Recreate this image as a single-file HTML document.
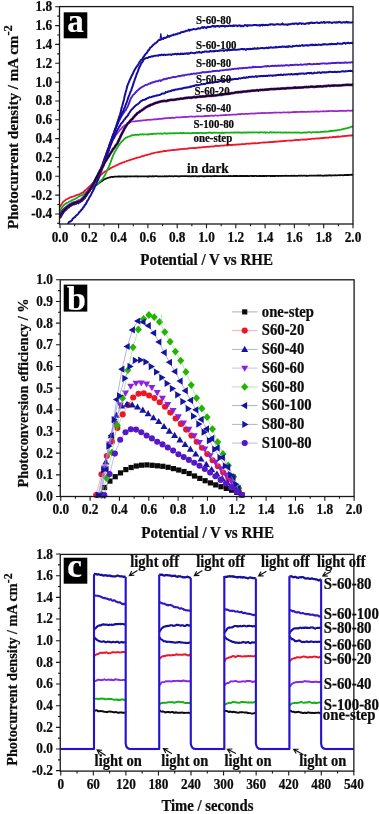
<!DOCTYPE html>
<html lang="en"><head><meta charset="utf-8"><title>Photocurrent figure</title>
<style>html,body{margin:0;padding:0;background:#fff}svg{display:block}text{stroke:#0c0c0c;stroke-width:.22px}text.w{stroke:#fff}</style></head>
<body>
<svg width="379" height="814" viewBox="0 0 379 814" font-family="'Liberation Serif', serif" font-weight="bold" fill="#0c0c0c">
<rect width="379" height="814" fill="#fff"/>
<rect x="59.5" y="6.6" width="293.5" height="217.4" fill="#fff" stroke="none"/>
<clipPath id="ca"><rect x="59.5" y="6.6" width="293.5" height="217.4"/></clipPath>
<g clip-path="url(#ca)">
<path d="M60.0 213.2 L60.8 211.9 L61.6 211.2 L62.4 210.3 L63.2 209.5 L64.0 208.8 L64.8 208.0 L65.6 207.5 L66.4 207.0 L67.2 206.8 L68.0 206.1 L68.8 205.6 L69.6 205.2 L70.4 204.7 L71.2 204.3 L72.0 204.0 L72.8 203.8 L73.6 203.4 L74.4 203.2 L75.2 202.9 L76.0 202.7 L76.8 202.5 L77.6 202.1 L78.4 201.7 L79.2 201.4 L80.0 201.1 L80.8 200.8 L81.6 200.1 L82.4 199.4 L83.2 198.6 L84.0 197.5 L84.8 196.6 L85.6 195.6 L86.4 194.5 L87.2 193.4 L88.0 192.5 L88.8 191.3 L89.6 190.8 L90.4 189.9 L91.2 189.1 L92.0 188.6 L92.8 187.9 L93.6 187.2 L94.4 186.5 L95.2 185.9 L96.0 185.3 L96.8 184.8 L97.6 184.1 L98.4 183.5 L99.2 183.0 L100.0 182.3 L100.8 181.7 L101.6 181.3 L102.4 180.7 L103.2 180.1 L104.0 179.5 L104.8 179.2 L105.6 178.6 L106.4 178.5 L107.2 178.2 L108.0 177.8 L108.8 177.7 L109.6 177.4 L110.4 177.3 L111.2 176.9 L112.0 176.9 L112.8 177.0 L113.6 176.9 L114.4 176.6 L115.2 176.7 L116.0 176.7 L116.8 176.6 L117.6 176.7 L118.4 176.4 L119.2 176.5 L120.0 176.4 L120.8 176.6 L121.6 176.5 L122.4 176.4 L123.2 176.3 L124.0 176.6 L124.8 176.5 L125.6 176.5 L126.4 176.5 L127.2 176.5 L128.0 176.4 L128.8 176.4 L129.6 176.4 L130.4 176.5 L131.2 176.3 L132.0 176.4 L132.8 176.4 L133.6 176.4 L134.4 176.4 L135.2 176.3 L136.0 176.2 L136.8 176.4 L137.6 176.5 L138.4 176.4 L139.2 176.4 L140.0 176.3 L140.8 176.4 L141.6 176.3 L142.4 176.4 L143.2 176.3 L144.0 176.4 L144.8 176.3 L145.6 176.4 L146.4 176.4 L147.2 176.5 L148.0 176.5 L148.8 176.5 L149.6 176.2 L150.4 176.3 L151.2 176.3 L152.0 176.4 L152.8 176.1 L153.6 176.4 L154.4 176.4 L155.2 176.2 L156.0 176.2 L156.8 176.2 L157.6 176.3 L158.4 176.4 L159.2 176.5 L160.0 176.3 L160.8 176.4 L161.6 176.3 L162.4 176.4 L163.2 176.3 L164.0 176.4 L164.8 176.2 L165.6 176.3 L166.4 176.2 L167.2 176.4 L168.0 176.3 L168.8 176.2 L169.6 176.2 L170.4 176.3 L171.2 176.2 L172.0 176.2 L172.8 176.3 L173.6 176.4 L174.4 176.2 L175.2 176.2 L176.0 176.1 L176.8 176.1 L177.6 176.3 L178.4 176.3 L179.2 176.2 L180.0 176.3 L180.8 176.2 L181.6 176.2 L182.4 176.1 L183.2 176.2 L184.0 176.2 L184.8 176.1 L185.6 176.2 L186.4 176.1 L187.2 176.2 L188.0 176.3 L188.8 176.2 L189.6 176.2 L190.4 176.3 L191.2 176.2 L192.0 176.3 L192.8 176.0 L193.6 176.3 L194.4 176.1 L195.2 176.2 L196.0 176.2 L196.8 176.3 L197.6 176.3 L198.4 176.2 L199.2 176.3 L200.0 176.1 L200.8 176.2 L201.6 176.2 L202.4 176.1 L203.2 176.3 L204.0 176.2 L204.8 176.3 L205.6 176.1 L206.4 176.1 L207.2 176.2 L208.0 176.2 L208.8 176.1 L209.6 176.2 L210.4 176.1 L211.2 176.3 L212.0 176.1 L212.8 176.2 L213.6 176.1 L214.4 176.0 L215.2 176.1 L216.0 176.0 L216.8 176.1 L217.6 176.2 L218.4 176.1 L219.2 176.2 L220.0 176.2 L220.8 176.1 L221.6 176.1 L222.4 176.1 L223.2 176.0 L224.0 176.2 L224.8 176.0 L225.6 176.1 L226.4 176.1 L227.2 176.2 L228.0 176.1 L228.8 176.0 L229.6 176.1 L230.4 176.0 L231.2 176.1 L232.0 176.1 L232.8 176.1 L233.6 176.0 L234.4 176.0 L235.2 176.0 L236.0 175.9 L236.8 176.0 L237.6 176.0 L238.4 176.1 L239.2 176.1 L240.0 175.9 L240.8 176.0 L241.6 176.0 L242.4 175.9 L243.2 176.1 L244.0 176.0 L244.8 175.9 L245.6 176.0 L246.4 176.0 L247.2 176.0 L248.0 175.9 L248.8 176.1 L249.6 176.1 L250.4 175.9 L251.2 175.9 L252.0 176.0 L252.8 175.9 L253.6 176.1 L254.4 176.0 L255.2 175.9 L256.0 175.9 L256.8 176.0 L257.6 176.2 L258.4 176.0 L259.2 176.0 L260.0 176.0 L260.8 176.0 L261.6 176.1 L262.4 175.9 L263.2 176.0 L264.0 176.0 L264.8 176.0 L265.6 175.8 L266.4 176.1 L267.2 175.9 L268.0 175.9 L268.8 175.8 L269.6 175.9 L270.4 176.0 L271.2 176.0 L272.0 176.0 L272.8 176.0 L273.6 176.0 L274.4 175.9 L275.2 176.0 L276.0 175.9 L276.8 175.9 L277.6 175.9 L278.4 176.0 L279.2 175.9 L280.0 175.8 L280.8 175.9 L281.6 176.0 L282.4 175.8 L283.2 175.9 L284.0 175.8 L284.8 175.9 L285.6 175.7 L286.4 175.9 L287.2 175.9 L288.0 175.8 L288.8 175.9 L289.6 175.9 L290.4 175.8 L291.2 175.8 L292.0 175.7 L292.8 175.8 L293.6 175.9 L294.4 175.7 L295.2 175.9 L296.0 175.8 L296.8 175.9 L297.6 175.8 L298.4 175.6 L299.2 175.7 L300.0 175.8 L300.8 175.7 L301.6 175.6 L302.4 175.8 L303.2 175.7 L304.0 175.6 L304.8 175.7 L305.6 175.8 L306.4 175.7 L307.2 175.8 L308.0 175.8 L308.8 175.7 L309.6 175.6 L310.4 175.6 L311.2 175.7 L312.0 175.7 L312.8 175.7 L313.6 175.7 L314.4 175.6 L315.2 175.7 L316.0 175.6 L316.8 175.6 L317.6 175.5 L318.4 175.5 L319.2 175.6 L320.0 175.5 L320.8 175.5 L321.6 175.6 L322.4 175.6 L323.2 175.8 L324.0 175.6 L324.8 175.5 L325.6 175.6 L326.4 175.5 L327.2 175.4 L328.0 175.6 L328.8 175.4 L329.6 175.2 L330.4 175.5 L331.2 175.4 L332.0 175.5 L332.8 175.3 L333.6 175.3 L334.4 175.5 L335.2 175.2 L336.0 175.3 L336.8 175.4 L337.6 175.3 L338.4 175.2 L339.2 175.2 L340.0 175.3 L340.8 175.1 L341.6 175.2 L342.4 175.2 L343.2 175.3 L344.0 175.0 L344.8 175.0 L345.6 175.1 L346.4 175.0 L347.2 175.0 L348.0 175.0 L348.8 175.0 L349.6 174.9 L350.4 174.9 L351.2 174.7 L352.0 174.8 L352.8 174.9 L353.0 174.7" fill="none" stroke="#0a0a0a" stroke-width="1.8" stroke-linejoin="round" stroke-linecap="round" />
<path d="M60.0 206.9 L60.8 205.4 L61.6 204.2 L62.4 202.9 L63.2 201.7 L64.0 201.1 L64.8 200.4 L65.6 199.9 L66.4 199.3 L67.2 199.1 L68.0 198.6 L68.8 198.2 L69.6 197.8 L70.4 197.4 L71.2 197.2 L72.0 196.8 L72.8 196.6 L73.6 196.3 L74.4 196.1 L75.2 195.8 L76.0 195.4 L76.8 194.9 L77.6 194.9 L78.4 194.7 L79.2 194.3 L80.0 194.0 L80.8 193.5 L81.6 193.1 L82.4 192.6 L83.2 192.3 L84.0 191.5 L84.8 190.8 L85.6 190.0 L86.4 189.4 L87.2 188.8 L88.0 187.9 L88.8 187.0 L89.6 186.5 L90.4 185.8 L91.2 185.0 L92.0 184.2 L92.8 183.4 L93.6 182.5 L94.4 181.7 L95.2 180.7 L96.0 180.1 L96.8 179.1 L97.6 178.5 L98.4 177.2 L99.2 176.7 L100.0 175.9 L100.8 175.0 L101.6 174.3 L102.4 173.6 L103.2 172.9 L104.0 172.2 L104.8 171.6 L105.6 171.2 L106.4 170.8 L107.2 170.2 L108.0 169.8 L108.8 169.4 L109.6 169.0 L110.4 168.3 L111.2 167.8 L112.0 167.6 L112.8 167.0 L113.6 166.6 L114.4 166.3 L115.2 166.0 L116.0 165.4 L116.8 165.3 L117.6 164.6 L118.4 164.5 L119.2 163.9 L120.0 163.6 L120.8 163.5 L121.6 163.0 L122.4 162.6 L123.2 162.3 L124.0 162.1 L124.8 161.8 L125.6 161.5 L126.4 161.3 L127.2 160.8 L128.0 160.6 L128.8 160.3 L129.6 160.2 L130.4 159.9 L131.2 159.7 L132.0 159.3 L132.8 159.0 L133.6 158.9 L134.4 158.5 L135.2 158.4 L136.0 158.1 L136.8 157.7 L137.6 157.6 L138.4 157.3 L139.2 157.3 L140.0 157.2 L140.8 156.7 L141.6 156.5 L142.4 156.0 L143.2 156.0 L144.0 155.8 L144.8 155.4 L145.6 155.4 L146.4 154.9 L147.2 154.9 L148.0 154.7 L148.8 154.3 L149.6 154.3 L150.4 154.1 L151.2 153.6 L152.0 153.4 L152.8 153.4 L153.6 153.1 L154.4 152.8 L155.2 152.7 L156.0 152.5 L156.8 152.3 L157.6 152.3 L158.4 152.0 L159.2 152.1 L160.0 151.9 L160.8 151.7 L161.6 151.6 L162.4 151.5 L163.2 151.3 L164.0 150.9 L164.8 151.1 L165.6 150.9 L166.4 151.0 L167.2 150.7 L168.0 150.6 L168.8 150.5 L169.6 150.6 L170.4 150.3 L171.2 150.2 L172.0 150.2 L172.8 150.0 L173.6 150.0 L174.4 149.9 L175.2 149.8 L176.0 149.9 L176.8 149.6 L177.6 149.5 L178.4 149.4 L179.2 149.5 L180.0 149.2 L180.8 149.1 L181.6 149.1 L182.4 149.1 L183.2 149.0 L184.0 148.8 L184.8 148.7 L185.6 148.8 L186.4 148.8 L187.2 148.6 L188.0 148.5 L188.8 148.5 L189.6 148.2 L190.4 148.2 L191.2 148.2 L192.0 148.2 L192.8 148.1 L193.6 147.8 L194.4 148.1 L195.2 148.1 L196.0 147.8 L196.8 147.8 L197.6 147.7 L198.4 147.7 L199.2 147.3 L200.0 147.6 L200.8 147.3 L201.6 147.5 L202.4 147.2 L203.2 147.1 L204.0 147.1 L204.8 147.1 L205.6 146.9 L206.4 146.9 L207.2 146.8 L208.0 146.6 L208.8 146.9 L209.6 146.7 L210.4 146.6 L211.2 146.6 L212.0 146.3 L212.8 146.4 L213.6 146.5 L214.4 146.4 L215.2 145.9 L216.0 145.7 L216.8 145.9 L217.6 146.1 L218.4 145.9 L219.2 145.8 L220.0 145.9 L220.8 145.6 L221.6 145.7 L222.4 145.7 L223.2 145.6 L224.0 145.5 L224.8 145.4 L225.6 145.4 L226.4 145.3 L227.2 145.4 L228.0 145.5 L228.8 145.1 L229.6 144.8 L230.4 145.0 L231.2 145.0 L232.0 145.0 L232.8 145.0 L233.6 144.7 L234.4 144.6 L235.2 144.8 L236.0 144.5 L236.8 144.7 L237.6 144.5 L238.4 144.5 L239.2 144.5 L240.0 144.4 L240.8 144.4 L241.6 144.1 L242.4 144.2 L243.2 144.1 L244.0 144.1 L244.8 144.1 L245.6 143.9 L246.4 143.8 L247.2 143.7 L248.0 143.7 L248.8 143.8 L249.6 143.5 L250.4 143.7 L251.2 143.5 L252.0 143.4 L252.8 143.2 L253.6 143.4 L254.4 143.4 L255.2 143.0 L256.0 143.3 L256.8 143.3 L257.6 143.1 L258.4 143.0 L259.2 143.2 L260.0 143.0 L260.8 142.7 L261.6 142.7 L262.4 142.6 L263.2 142.6 L264.0 142.3 L264.8 142.6 L265.6 142.4 L266.4 142.4 L267.2 142.3 L268.0 142.4 L268.8 142.2 L269.6 142.0 L270.4 142.1 L271.2 142.2 L272.0 141.9 L272.8 142.0 L273.6 141.9 L274.4 141.7 L275.2 141.9 L276.0 141.5 L276.8 141.7 L277.6 141.5 L278.4 141.5 L279.2 141.3 L280.0 141.2 L280.8 141.4 L281.6 141.2 L282.4 141.2 L283.2 141.0 L284.0 141.1 L284.8 140.8 L285.6 140.8 L286.4 140.8 L287.2 140.7 L288.0 140.6 L288.8 140.7 L289.6 140.6 L290.4 140.5 L291.2 140.7 L292.0 140.5 L292.8 140.5 L293.6 140.3 L294.4 140.2 L295.2 140.0 L296.0 140.1 L296.8 139.8 L297.6 139.9 L298.4 140.0 L299.2 140.1 L300.0 139.9 L300.8 139.6 L301.6 139.7 L302.4 139.5 L303.2 139.6 L304.0 139.5 L304.8 139.5 L305.6 139.7 L306.4 139.4 L307.2 139.5 L308.0 139.2 L308.8 139.1 L309.6 139.2 L310.4 139.2 L311.2 138.9 L312.0 138.9 L312.8 138.6 L313.6 138.7 L314.4 138.8 L315.2 138.6 L316.0 138.5 L316.8 138.3 L317.6 138.5 L318.4 138.5 L319.2 138.4 L320.0 138.3 L320.8 138.0 L321.6 138.3 L322.4 138.0 L323.2 138.0 L324.0 138.0 L324.8 137.6 L325.6 137.8 L326.4 137.7 L327.2 137.7 L328.0 137.8 L328.8 137.6 L329.6 137.2 L330.4 137.4 L331.2 137.4 L332.0 137.3 L332.8 137.0 L333.6 136.9 L334.4 137.1 L335.2 137.0 L336.0 136.9 L336.8 136.6 L337.6 137.0 L338.4 136.3 L339.2 136.6 L340.0 136.8 L340.8 136.5 L341.6 136.4 L342.4 136.2 L343.2 136.4 L344.0 136.0 L344.8 136.1 L345.6 136.0 L346.4 135.8 L347.2 136.0 L348.0 135.6 L348.8 135.6 L349.6 135.6 L350.4 135.5 L351.2 135.5 L352.0 135.5 L352.8 135.3 L353.0 135.2" fill="none" stroke="#f01428" stroke-width="1.8" stroke-linejoin="round" stroke-linecap="round" />
<path d="M60.0 210.9 L60.8 209.5 L61.6 208.3 L62.4 206.9 L63.2 205.9 L64.0 205.0 L64.8 204.2 L65.6 203.9 L66.4 203.2 L67.2 202.9 L68.0 202.7 L68.8 201.9 L69.6 201.7 L70.4 201.1 L71.2 200.8 L72.0 200.2 L72.8 200.0 L73.6 199.5 L74.4 199.2 L75.2 199.0 L76.0 198.4 L76.8 198.0 L77.6 197.4 L78.4 197.0 L79.2 196.4 L80.0 195.8 L80.8 195.6 L81.6 195.4 L82.4 194.7 L83.2 194.1 L84.0 193.9 L84.8 193.0 L85.6 192.5 L86.4 191.9 L87.2 191.3 L88.0 190.9 L88.8 190.7 L89.6 189.8 L90.4 189.1 L91.2 188.5 L92.0 188.0 L92.8 187.1 L93.6 186.8 L94.4 186.3 L95.2 185.6 L96.0 185.1 L96.8 184.2 L97.6 183.4 L98.4 183.2 L99.2 182.5 L100.0 181.3 L100.8 180.8 L101.6 179.9 L102.4 179.0 L103.2 177.9 L104.0 176.6 L104.8 175.3 L105.6 173.8 L106.4 172.2 L107.2 170.3 L108.0 168.5 L108.8 166.9 L109.6 164.7 L110.4 162.8 L111.2 160.6 L112.0 158.4 L112.8 156.2 L113.6 154.4 L114.4 153.0 L115.2 151.2 L116.0 150.0 L116.8 148.6 L117.6 147.2 L118.4 146.2 L119.2 144.7 L120.0 143.9 L120.8 142.6 L121.6 141.7 L122.4 140.8 L123.2 140.2 L124.0 139.3 L124.8 138.7 L125.6 137.9 L126.4 137.6 L127.2 137.3 L128.0 136.8 L128.8 136.6 L129.6 136.2 L130.4 136.2 L131.2 135.6 L132.0 135.1 L132.8 135.4 L133.6 135.1 L134.4 134.8 L135.2 134.8 L136.0 134.6 L136.8 134.8 L137.6 134.6 L138.4 134.9 L139.2 134.8 L140.0 134.4 L140.8 134.4 L141.6 134.5 L142.4 134.2 L143.2 134.5 L144.0 134.5 L144.8 134.3 L145.6 134.3 L146.4 134.4 L147.2 134.5 L148.0 134.5 L148.8 134.2 L149.6 134.3 L150.4 134.0 L151.2 134.1 L152.0 133.8 L152.8 134.1 L153.6 133.7 L154.4 133.7 L155.2 133.8 L156.0 133.8 L156.8 133.5 L157.6 133.6 L158.4 133.7 L159.2 133.7 L160.0 133.5 L160.8 133.6 L161.6 133.5 L162.4 133.8 L163.2 133.6 L164.0 133.3 L164.8 133.2 L165.6 133.5 L166.4 133.6 L167.2 133.5 L168.0 133.5 L168.8 133.3 L169.6 133.2 L170.4 133.5 L171.2 133.4 L172.0 133.4 L172.8 133.1 L173.6 133.3 L174.4 133.2 L175.2 133.4 L176.0 133.2 L176.8 133.2 L177.6 133.1 L178.4 133.4 L179.2 133.2 L180.0 133.1 L180.8 133.0 L181.6 133.0 L182.4 133.4 L183.2 132.9 L184.0 133.0 L184.8 133.2 L185.6 133.3 L186.4 133.1 L187.2 133.2 L188.0 133.2 L188.8 133.2 L189.6 133.1 L190.4 133.3 L191.2 133.1 L192.0 133.3 L192.8 132.9 L193.6 133.2 L194.4 132.8 L195.2 132.8 L196.0 133.1 L196.8 132.9 L197.6 133.1 L198.4 132.8 L199.2 133.2 L200.0 133.0 L200.8 132.8 L201.6 133.0 L202.4 133.1 L203.2 132.8 L204.0 133.0 L204.8 133.2 L205.6 133.0 L206.4 132.9 L207.2 132.8 L208.0 133.0 L208.8 132.6 L209.6 132.4 L210.4 132.8 L211.2 132.7 L212.0 133.1 L212.8 132.9 L213.6 132.7 L214.4 132.6 L215.2 132.9 L216.0 132.7 L216.8 132.7 L217.6 132.8 L218.4 132.8 L219.2 132.8 L220.0 132.8 L220.8 132.9 L221.6 133.0 L222.4 132.5 L223.2 133.1 L224.0 132.7 L224.8 132.9 L225.6 132.6 L226.4 132.7 L227.2 132.7 L228.0 132.7 L228.8 132.8 L229.6 132.7 L230.4 132.5 L231.2 132.6 L232.0 132.7 L232.8 132.7 L233.6 132.5 L234.4 132.5 L235.2 132.6 L236.0 132.4 L236.8 132.4 L237.6 132.8 L238.4 132.5 L239.2 132.5 L240.0 132.4 L240.8 132.7 L241.6 132.8 L242.4 132.5 L243.2 132.6 L244.0 132.4 L244.8 132.7 L245.6 132.6 L246.4 132.3 L247.2 132.6 L248.0 132.5 L248.8 132.5 L249.6 132.5 L250.4 132.3 L251.2 132.4 L252.0 132.5 L252.8 132.4 L253.6 132.3 L254.4 132.7 L255.2 132.4 L256.0 132.3 L256.8 132.3 L257.6 132.5 L258.4 132.6 L259.2 132.4 L260.0 132.5 L260.8 132.2 L261.6 132.4 L262.4 132.3 L263.2 132.4 L264.0 132.5 L264.8 132.1 L265.6 132.9 L266.4 132.3 L267.2 132.5 L268.0 132.6 L268.8 132.6 L269.6 132.5 L270.4 132.0 L271.2 132.3 L272.0 132.6 L272.8 132.3 L273.6 132.3 L274.4 132.1 L275.2 132.7 L276.0 132.6 L276.8 132.3 L277.6 132.5 L278.4 132.5 L279.2 132.3 L280.0 132.5 L280.8 132.5 L281.6 132.6 L282.4 132.7 L283.2 132.5 L284.0 132.5 L284.8 132.6 L285.6 132.5 L286.4 132.4 L287.2 132.7 L288.0 132.5 L288.8 132.6 L289.6 132.7 L290.4 132.4 L291.2 132.7 L292.0 132.6 L292.8 132.6 L293.6 132.6 L294.4 132.5 L295.2 132.3 L296.0 132.6 L296.8 132.5 L297.6 132.7 L298.4 132.6 L299.2 132.5 L300.0 132.6 L300.8 132.8 L301.6 132.8 L302.4 132.6 L303.2 132.6 L304.0 132.5 L304.8 132.5 L305.6 132.6 L306.4 132.5 L307.2 132.5 L308.0 132.3 L308.8 132.2 L309.6 132.2 L310.4 132.3 L311.2 132.6 L312.0 132.5 L312.8 132.2 L313.6 132.1 L314.4 132.4 L315.2 132.3 L316.0 132.0 L316.8 132.3 L317.6 132.1 L318.4 132.3 L319.2 132.1 L320.0 132.1 L320.8 132.0 L321.6 131.8 L322.4 131.8 L323.2 131.7 L324.0 131.9 L324.8 131.5 L325.6 131.4 L326.4 131.7 L327.2 131.7 L328.0 131.6 L328.8 131.5 L329.6 131.0 L330.4 131.1 L331.2 131.0 L332.0 131.0 L332.8 130.6 L333.6 130.8 L334.4 130.7 L335.2 130.4 L336.0 130.5 L336.8 130.5 L337.6 130.2 L338.4 130.2 L339.2 130.0 L340.0 129.8 L340.8 129.6 L341.6 129.3 L342.4 129.4 L343.2 128.9 L344.0 128.7 L344.8 128.8 L345.6 128.4 L346.4 128.3 L347.2 128.2 L348.0 127.9 L348.8 127.6 L349.6 127.5 L350.4 127.3 L351.2 126.7 L352.0 126.5 L352.8 126.7 L353.0 126.5" fill="none" stroke="#16b016" stroke-width="1.8" stroke-linejoin="round" stroke-linecap="round" />
<path d="M60.0 213.7 L60.8 212.7 L61.6 211.8 L62.4 210.6 L63.2 209.9 L64.0 209.0 L64.8 208.3 L65.6 207.3 L66.4 206.9 L67.2 206.4 L68.0 205.4 L68.8 205.1 L69.6 204.5 L70.4 204.0 L71.2 203.4 L72.0 202.8 L72.8 202.5 L73.6 202.4 L74.4 202.1 L75.2 201.8 L76.0 201.5 L76.8 201.2 L77.6 200.7 L78.4 200.2 L79.2 200.1 L80.0 199.7 L80.8 199.1 L81.6 198.4 L82.4 197.8 L83.2 196.9 L84.0 196.3 L84.8 195.3 L85.6 194.4 L86.4 193.5 L87.2 192.4 L88.0 191.5 L88.8 190.0 L89.6 188.8 L90.4 188.1 L91.2 187.0 L92.0 185.7 L92.8 184.3 L93.6 183.0 L94.4 181.6 L95.2 179.9 L96.0 178.6 L96.8 177.2 L97.6 175.5 L98.4 174.3 L99.2 172.2 L100.0 170.7 L100.8 169.2 L101.6 167.1 L102.4 165.0 L103.2 162.9 L104.0 160.9 L104.8 159.2 L105.6 157.0 L106.4 155.1 L107.2 153.0 L108.0 151.2 L108.8 149.1 L109.6 147.0 L110.4 145.2 L111.2 143.5 L112.0 142.0 L112.8 140.2 L113.6 138.9 L114.4 137.8 L115.2 136.1 L116.0 134.8 L116.8 134.0 L117.6 132.9 L118.4 131.8 L119.2 130.9 L120.0 129.9 L120.8 129.1 L121.6 128.2 L122.4 127.5 L123.2 126.5 L124.0 125.9 L124.8 125.4 L125.6 124.8 L126.4 124.4 L127.2 123.8 L128.0 123.3 L128.8 123.0 L129.6 122.6 L130.4 122.0 L131.2 121.8 L132.0 121.6 L132.8 121.5 L133.6 121.4 L134.4 121.4 L135.2 121.2 L136.0 121.3 L136.8 121.1 L137.6 120.8 L138.4 121.0 L139.2 120.9 L140.0 120.5 L140.8 120.6 L141.6 120.6 L142.4 120.4 L143.2 120.4 L144.0 120.3 L144.8 120.2 L145.6 120.0 L146.4 120.1 L147.2 119.9 L148.0 120.0 L148.8 119.6 L149.6 119.8 L150.4 119.9 L151.2 119.7 L152.0 119.6 L152.8 119.6 L153.6 119.3 L154.4 119.3 L155.2 119.3 L156.0 119.2 L156.8 119.3 L157.6 119.0 L158.4 119.2 L159.2 118.7 L160.0 118.8 L160.8 118.8 L161.6 118.9 L162.4 118.6 L163.2 118.3 L164.0 118.6 L164.8 118.4 L165.6 118.2 L166.4 118.1 L167.2 118.0 L168.0 118.1 L168.8 118.1 L169.6 117.7 L170.4 118.2 L171.2 117.8 L172.0 117.7 L172.8 117.8 L173.6 117.7 L174.4 118.0 L175.2 117.7 L176.0 117.4 L176.8 117.4 L177.6 117.3 L178.4 117.3 L179.2 117.4 L180.0 117.2 L180.8 117.5 L181.6 117.2 L182.4 117.1 L183.2 117.2 L184.0 116.8 L184.8 116.9 L185.6 117.1 L186.4 116.9 L187.2 116.9 L188.0 116.9 L188.8 116.7 L189.6 116.7 L190.4 116.5 L191.2 116.4 L192.0 116.9 L192.8 116.5 L193.6 116.5 L194.4 116.8 L195.2 116.7 L196.0 116.4 L196.8 116.4 L197.6 116.4 L198.4 116.2 L199.2 116.4 L200.0 116.3 L200.8 116.3 L201.6 116.4 L202.4 116.3 L203.2 116.4 L204.0 116.4 L204.8 115.8 L205.6 116.2 L206.4 115.9 L207.2 115.8 L208.0 116.1 L208.8 115.8 L209.6 115.8 L210.4 116.0 L211.2 115.7 L212.0 115.6 L212.8 115.8 L213.6 115.9 L214.4 115.7 L215.2 115.4 L216.0 115.5 L216.8 115.5 L217.6 115.8 L218.4 115.6 L219.2 115.5 L220.0 115.5 L220.8 115.2 L221.6 115.3 L222.4 115.3 L223.2 115.0 L224.0 115.1 L224.8 115.1 L225.6 114.9 L226.4 115.1 L227.2 115.0 L228.0 115.0 L228.8 114.7 L229.6 114.8 L230.4 115.0 L231.2 114.8 L232.0 114.5 L232.8 114.6 L233.6 114.8 L234.4 114.5 L235.2 114.5 L236.0 114.8 L236.8 114.4 L237.6 114.3 L238.4 114.1 L239.2 114.1 L240.0 114.4 L240.8 114.1 L241.6 113.9 L242.4 113.9 L243.2 114.0 L244.0 114.1 L244.8 113.8 L245.6 114.0 L246.4 113.8 L247.2 113.8 L248.0 113.8 L248.8 113.8 L249.6 113.6 L250.4 113.6 L251.2 113.7 L252.0 113.4 L252.8 113.5 L253.6 113.6 L254.4 113.6 L255.2 113.4 L256.0 113.3 L256.8 113.4 L257.6 113.2 L258.4 113.2 L259.2 113.3 L260.0 113.2 L260.8 113.0 L261.6 113.1 L262.4 112.8 L263.2 113.2 L264.0 113.0 L264.8 113.1 L265.6 112.8 L266.4 113.0 L267.2 113.0 L268.0 113.1 L268.8 112.7 L269.6 113.0 L270.4 112.8 L271.2 112.7 L272.0 112.9 L272.8 112.7 L273.6 112.7 L274.4 112.6 L275.2 112.7 L276.0 112.7 L276.8 112.6 L277.6 112.5 L278.4 112.5 L279.2 112.6 L280.0 112.7 L280.8 112.5 L281.6 112.7 L282.4 112.5 L283.2 112.3 L284.0 112.5 L284.8 112.3 L285.6 112.5 L286.4 112.5 L287.2 112.3 L288.0 112.3 L288.8 112.7 L289.6 112.3 L290.4 112.3 L291.2 112.4 L292.0 112.2 L292.8 112.2 L293.6 112.2 L294.4 111.8 L295.2 112.3 L296.0 111.9 L296.8 111.9 L297.6 112.1 L298.4 112.0 L299.2 111.8 L300.0 112.0 L300.8 111.8 L301.6 111.8 L302.4 111.7 L303.2 111.8 L304.0 111.9 L304.8 111.9 L305.6 111.9 L306.4 112.0 L307.2 111.8 L308.0 111.7 L308.8 111.7 L309.6 112.0 L310.4 111.7 L311.2 111.7 L312.0 111.6 L312.8 111.7 L313.6 111.7 L314.4 111.6 L315.2 111.6 L316.0 111.4 L316.8 111.4 L317.6 111.6 L318.4 111.6 L319.2 111.6 L320.0 111.5 L320.8 111.3 L321.6 111.5 L322.4 111.5 L323.2 111.1 L324.0 111.5 L324.8 111.4 L325.6 111.5 L326.4 111.1 L327.2 111.1 L328.0 111.4 L328.8 110.9 L329.6 111.1 L330.4 111.0 L331.2 111.0 L332.0 110.8 L332.8 111.1 L333.6 111.2 L334.4 111.1 L335.2 111.1 L336.0 111.0 L336.8 111.2 L337.6 111.1 L338.4 111.1 L339.2 110.7 L340.0 111.0 L340.8 110.7 L341.6 110.9 L342.4 110.9 L343.2 110.7 L344.0 110.8 L344.8 111.0 L345.6 110.9 L346.4 110.9 L347.2 110.6 L348.0 110.6 L348.8 110.5 L349.6 110.7 L350.4 110.8 L351.2 110.7 L352.0 110.6 L352.8 110.4 L353.0 110.7" fill="none" stroke="#9a22c8" stroke-width="1.7" stroke-linejoin="round" stroke-linecap="round" />
<path d="M60.0 216.9 L60.8 215.2 L61.6 213.9 L62.4 213.0 L63.2 211.8 L64.0 211.4 L64.8 210.1 L65.6 209.1 L66.4 208.4 L67.2 208.1 L68.0 206.9 L68.8 206.6 L69.6 206.0 L70.4 205.7 L71.2 205.0 L72.0 204.4 L72.8 204.3 L73.6 203.9 L74.4 203.8 L75.2 203.3 L76.0 203.5 L76.8 202.8 L77.6 202.7 L78.4 202.1 L79.2 202.0 L80.0 201.6 L80.8 201.2 L81.6 200.8 L82.4 199.8 L83.2 198.9 L84.0 198.4 L84.8 197.0 L85.6 195.8 L86.4 195.1 L87.2 193.8 L88.0 191.8 L88.8 191.1 L89.6 190.2 L90.4 189.1 L91.2 187.6 L92.0 186.8 L92.8 185.1 L93.6 183.9 L94.4 182.7 L95.2 181.3 L96.0 180.1 L96.8 178.7 L97.6 177.0 L98.4 175.8 L99.2 173.8 L100.0 172.2 L100.8 170.9 L101.6 168.6 L102.4 166.8 L103.2 164.4 L104.0 162.3 L104.8 160.1 L105.6 158.1 L106.4 155.9 L107.2 153.9 L108.0 151.9 L108.8 149.9 L109.6 147.5 L110.4 145.6 L111.2 143.6 L112.0 141.3 L112.8 139.3 L113.6 138.3 L114.4 136.4 L115.2 134.5 L116.0 132.9 L116.8 131.0 L117.6 129.4 L118.4 128.4 L119.2 126.6 L120.0 125.8 L120.8 124.1 L121.6 123.1 L122.4 122.4 L123.2 121.4 L124.0 119.9 L124.8 119.3 L125.6 117.9 L126.4 117.0 L127.2 116.2 L128.0 115.2 L128.8 113.5 L129.6 112.5 L130.4 111.2 L131.2 109.9 L132.0 109.2 L132.8 108.7 L133.6 107.5 L134.4 106.8 L135.2 106.1 L136.0 105.1 L136.8 104.8 L137.6 104.2 L138.4 103.6 L139.2 102.9 L140.0 102.0 L140.8 101.4 L141.6 100.8 L142.4 100.3 L143.2 99.9 L144.0 99.9 L144.8 99.7 L145.6 98.9 L146.4 98.9 L147.2 98.2 L148.0 98.1 L148.8 97.7 L149.6 97.2 L150.4 97.4 L151.2 97.1 L152.0 96.8 L152.8 96.5 L153.6 96.2 L154.4 96.2 L155.2 95.8 L156.0 95.8 L156.8 95.3 L157.6 95.4 L158.4 95.2 L159.2 95.1 L160.0 94.8 L160.8 94.4 L161.6 93.9 L162.4 93.4 L163.2 93.5 L164.0 93.5 L164.8 93.3 L165.6 92.1 L166.4 92.2 L167.2 92.0 L168.0 91.6 L168.8 91.6 L169.6 91.3 L170.4 91.0 L171.2 90.9 L172.0 90.3 L172.8 90.2 L173.6 90.0 L174.4 90.2 L175.2 89.5 L176.0 89.6 L176.8 89.6 L177.6 89.2 L178.4 89.3 L179.2 88.8 L180.0 88.8 L180.8 88.7 L181.6 88.9 L182.4 88.3 L183.2 88.3 L184.0 87.8 L184.8 87.7 L185.6 87.9 L186.4 87.5 L187.2 87.5 L188.0 87.2 L188.8 87.3 L189.6 87.2 L190.4 86.3 L191.2 86.8 L192.0 86.3 L192.8 86.1 L193.6 85.8 L194.4 85.9 L195.2 85.3 L196.0 85.2 L196.8 85.1 L197.6 85.2 L198.4 85.1 L199.2 84.9 L200.0 84.7 L200.8 84.4 L201.6 83.9 L202.4 84.3 L203.2 84.1 L204.0 84.0 L204.8 84.1 L205.6 83.6 L206.4 83.4 L207.2 82.8 L208.0 83.3 L208.8 83.0 L209.6 82.7 L210.4 82.9 L211.2 82.4 L212.0 82.4 L212.8 82.8 L213.6 82.4 L214.4 82.3 L215.2 82.1 L216.0 82.0 L216.8 81.8 L217.6 82.1 L218.4 81.4 L219.2 81.5 L220.0 81.1 L220.8 81.0 L221.6 80.4 L222.4 80.4 L223.2 81.0 L224.0 80.9 L224.8 80.3 L225.6 80.3 L226.4 80.3 L227.2 79.8 L228.0 80.3 L228.8 79.6 L229.6 79.5 L230.4 78.9 L231.2 79.8 L232.0 79.3 L232.8 79.6 L233.6 78.9 L234.4 79.0 L235.2 78.9 L236.0 78.8 L236.8 79.1 L237.6 79.0 L238.4 78.7 L239.2 78.2 L240.0 78.4 L240.8 78.4 L241.6 78.1 L242.4 78.0 L243.2 77.9 L244.0 77.5 L244.8 77.7 L245.6 77.9 L246.4 77.2 L247.2 77.4 L248.0 77.5 L248.8 76.9 L249.6 77.1 L250.4 76.7 L251.2 76.9 L252.0 76.6 L252.8 76.7 L253.6 76.7 L254.4 76.7 L255.2 76.6 L256.0 76.1 L256.8 76.9 L257.6 76.4 L258.4 76.2 L259.2 76.2 L260.0 76.3 L260.8 76.0 L261.6 76.1 L262.4 76.0 L263.2 76.2 L264.0 75.8 L264.8 76.0 L265.6 75.9 L266.4 75.8 L267.2 76.0 L268.0 75.7 L268.8 75.4 L269.6 75.7 L270.4 75.6 L271.2 75.5 L272.0 75.5 L272.8 75.9 L273.6 75.4 L274.4 75.4 L275.2 75.2 L276.0 75.5 L276.8 75.1 L277.6 74.9 L278.4 74.8 L279.2 75.1 L280.0 75.1 L280.8 74.6 L281.6 74.7 L282.4 75.0 L283.2 75.0 L284.0 74.4 L284.8 74.6 L285.6 74.8 L286.4 74.5 L287.2 74.4 L288.0 74.4 L288.8 74.2 L289.6 74.4 L290.4 74.4 L291.2 74.0 L292.0 74.3 L292.8 74.5 L293.6 74.2 L294.4 74.3 L295.2 74.0 L296.0 74.3 L296.8 73.8 L297.6 74.4 L298.4 73.8 L299.2 73.7 L300.0 73.6 L300.8 73.7 L301.6 73.6 L302.4 73.5 L303.2 73.5 L304.0 73.7 L304.8 73.7 L305.6 73.4 L306.4 73.7 L307.2 73.2 L308.0 73.1 L308.8 73.0 L309.6 73.4 L310.4 72.9 L311.2 72.8 L312.0 73.4 L312.8 73.4 L313.6 73.3 L314.4 72.6 L315.2 72.9 L316.0 73.1 L316.8 72.9 L317.6 72.4 L318.4 72.7 L319.2 72.3 L320.0 72.4 L320.8 73.1 L321.6 72.7 L322.4 72.2 L323.2 72.2 L324.0 72.5 L324.8 72.3 L325.6 72.5 L326.4 72.2 L327.2 72.2 L328.0 72.3 L328.8 72.0 L329.6 71.7 L330.4 71.8 L331.2 71.9 L332.0 72.0 L332.8 72.0 L333.6 71.9 L334.4 72.0 L335.2 71.7 L336.0 72.1 L336.8 72.2 L337.6 71.8 L338.4 71.7 L339.2 71.9 L340.0 71.8 L340.8 71.6 L341.6 71.5 L342.4 71.3 L343.2 71.2 L344.0 71.6 L344.8 71.6 L345.6 71.1 L346.4 71.3 L347.2 71.3 L348.0 71.1 L348.8 71.0 L349.6 71.1 L350.4 70.7 L351.2 71.1 L352.0 71.0 L352.8 71.5 L353.0 71.2" fill="none" stroke="#150f9c" stroke-width="2.0" stroke-linejoin="round" stroke-linecap="round" />
<path d="M60.0 214.9 L60.8 213.7 L61.6 212.9 L62.4 211.8 L63.2 210.4 L64.0 209.5 L64.8 208.4 L65.6 207.8 L66.4 207.1 L67.2 206.3 L68.0 206.2 L68.8 204.8 L69.6 204.6 L70.4 204.2 L71.2 203.8 L72.0 203.6 L72.8 202.7 L73.6 202.5 L74.4 202.4 L75.2 202.2 L76.0 201.8 L76.8 201.5 L77.6 201.6 L78.4 200.9 L79.2 200.6 L80.0 200.7 L80.8 200.3 L81.6 199.5 L82.4 198.5 L83.2 197.6 L84.0 196.7 L84.8 195.5 L85.6 194.5 L86.4 193.7 L87.2 192.2 L88.0 190.8 L88.8 189.6 L89.6 188.3 L90.4 187.6 L91.2 185.8 L92.0 185.0 L92.8 183.5 L93.6 182.3 L94.4 180.9 L95.2 180.1 L96.0 178.5 L96.8 177.6 L97.6 175.4 L98.4 173.8 L99.2 172.6 L100.0 170.9 L100.8 168.9 L101.6 166.5 L102.4 165.0 L103.2 162.6 L104.0 160.3 L104.8 157.7 L105.6 155.7 L106.4 153.3 L107.2 151.2 L108.0 148.9 L108.8 147.0 L109.6 144.4 L110.4 142.2 L111.2 140.3 L112.0 138.0 L112.8 135.9 L113.6 133.8 L114.4 131.9 L115.2 129.6 L116.0 127.9 L116.8 126.3 L117.6 124.2 L118.4 122.3 L119.2 120.6 L120.0 119.2 L120.8 117.4 L121.6 115.9 L122.4 114.7 L123.2 113.4 L124.0 112.6 L124.8 111.0 L125.6 110.5 L126.4 108.7 L127.2 107.5 L128.0 105.9 L128.8 103.8 L129.6 101.7 L130.4 99.5 L131.2 97.7 L132.0 96.8 L132.8 95.4 L133.6 94.6 L134.4 94.0 L135.2 92.9 L136.0 92.0 L136.8 91.1 L137.6 90.5 L138.4 89.8 L139.2 88.8 L140.0 88.5 L140.8 87.6 L141.6 87.3 L142.4 86.6 L143.2 86.5 L144.0 86.0 L144.8 85.4 L145.6 85.0 L146.4 84.8 L147.2 84.7 L148.0 84.3 L148.8 83.8 L149.6 83.5 L150.4 83.5 L151.2 82.6 L152.0 82.8 L152.8 82.2 L153.6 82.4 L154.4 81.8 L155.2 81.7 L156.0 81.3 L156.8 81.3 L157.6 81.2 L158.4 81.2 L159.2 80.4 L160.0 80.3 L160.8 81.0 L161.6 80.2 L162.4 79.7 L163.2 79.6 L164.0 78.8 L164.8 79.4 L165.6 79.0 L166.4 78.4 L167.2 78.8 L168.0 78.2 L168.8 78.0 L169.6 78.1 L170.4 77.9 L171.2 77.6 L172.0 77.5 L172.8 77.0 L173.6 76.9 L174.4 77.2 L175.2 77.1 L176.0 76.8 L176.8 76.6 L177.6 76.3 L178.4 76.2 L179.2 75.9 L180.0 76.3 L180.8 75.7 L181.6 75.8 L182.4 75.5 L183.2 75.1 L184.0 75.6 L184.8 75.1 L185.6 74.8 L186.4 74.9 L187.2 74.6 L188.0 74.6 L188.8 74.3 L189.6 74.5 L190.4 74.3 L191.2 73.8 L192.0 74.2 L192.8 73.9 L193.6 73.5 L194.4 73.7 L195.2 73.6 L196.0 73.8 L196.8 73.1 L197.6 73.4 L198.4 73.1 L199.2 73.1 L200.0 72.8 L200.8 72.7 L201.6 72.7 L202.4 72.3 L203.2 72.0 L204.0 72.3 L204.8 72.1 L205.6 72.2 L206.4 72.2 L207.2 71.9 L208.0 72.1 L208.8 71.7 L209.6 71.7 L210.4 71.7 L211.2 71.6 L212.0 71.3 L212.8 71.3 L213.6 71.0 L214.4 71.0 L215.2 71.0 L216.0 71.1 L216.8 70.7 L217.6 70.9 L218.4 71.0 L219.2 71.0 L220.0 70.4 L220.8 70.6 L221.6 70.4 L222.4 70.3 L223.2 70.3 L224.0 70.1 L224.8 70.1 L225.6 69.9 L226.4 69.7 L227.2 69.7 L228.0 69.7 L228.8 69.7 L229.6 69.5 L230.4 69.5 L231.2 69.5 L232.0 69.0 L232.8 69.0 L233.6 69.1 L234.4 68.9 L235.2 68.6 L236.0 68.9 L236.8 68.7 L237.6 68.4 L238.4 68.9 L239.2 68.2 L240.0 68.4 L240.8 68.2 L241.6 68.2 L242.4 68.3 L243.2 67.9 L244.0 68.0 L244.8 67.9 L245.6 67.7 L246.4 68.0 L247.2 67.8 L248.0 67.6 L248.8 67.5 L249.6 67.5 L250.4 67.5 L251.2 67.4 L252.0 67.6 L252.8 66.8 L253.6 66.8 L254.4 67.2 L255.2 66.8 L256.0 67.1 L256.8 66.9 L257.6 67.1 L258.4 67.0 L259.2 67.1 L260.0 67.0 L260.8 67.0 L261.6 66.8 L262.4 66.9 L263.2 66.7 L264.0 66.5 L264.8 66.3 L265.6 66.2 L266.4 66.5 L267.2 65.9 L268.0 66.4 L268.8 66.1 L269.6 66.4 L270.4 66.2 L271.2 66.0 L272.0 66.1 L272.8 65.6 L273.6 66.0 L274.4 66.0 L275.2 65.5 L276.0 66.0 L276.8 65.8 L277.6 65.8 L278.4 65.4 L279.2 65.8 L280.0 65.7 L280.8 65.6 L281.6 65.3 L282.4 65.7 L283.2 65.7 L284.0 65.5 L284.8 65.6 L285.6 65.2 L286.4 65.3 L287.2 65.3 L288.0 65.2 L288.8 65.7 L289.6 65.2 L290.4 65.0 L291.2 65.2 L292.0 64.8 L292.8 65.0 L293.6 65.1 L294.4 64.8 L295.2 64.8 L296.0 64.6 L296.8 64.8 L297.6 64.6 L298.4 65.0 L299.2 64.8 L300.0 64.6 L300.8 64.3 L301.6 64.9 L302.4 64.8 L303.2 64.6 L304.0 64.5 L304.8 64.4 L305.6 64.3 L306.4 64.7 L307.2 64.3 L308.0 64.0 L308.8 64.1 L309.6 63.6 L310.4 64.3 L311.2 64.2 L312.0 64.4 L312.8 64.4 L313.6 63.8 L314.4 64.0 L315.2 64.1 L316.0 64.0 L316.8 63.7 L317.6 64.0 L318.4 63.9 L319.2 64.0 L320.0 63.7 L320.8 63.6 L321.6 63.5 L322.4 63.5 L323.2 63.4 L324.0 63.4 L324.8 63.6 L325.6 63.5 L326.4 63.7 L327.2 63.6 L328.0 63.5 L328.8 63.1 L329.6 63.4 L330.4 63.5 L331.2 63.0 L332.0 63.0 L332.8 63.0 L333.6 62.9 L334.4 63.0 L335.2 62.9 L336.0 63.1 L336.8 62.7 L337.6 62.9 L338.4 62.8 L339.2 62.7 L340.0 63.1 L340.8 62.8 L341.6 62.9 L342.4 62.7 L343.2 62.9 L344.0 62.8 L344.8 62.7 L345.6 62.3 L346.4 62.8 L347.2 62.7 L348.0 62.6 L348.8 62.6 L349.6 62.5 L350.4 62.5 L351.2 62.3 L352.0 62.4 L352.8 62.5 L353.0 62.3" fill="none" stroke="#4e1ecc" stroke-width="1.9" stroke-linejoin="round" stroke-linecap="round" />
<path d="M60.0 217.8 L60.8 217.1 L61.6 215.5 L62.4 214.1 L63.2 212.9 L64.0 211.4 L64.8 210.7 L65.6 210.1 L66.4 209.7 L67.2 208.0 L68.0 207.6 L68.8 207.6 L69.6 206.6 L70.4 206.0 L71.2 205.7 L72.0 205.0 L72.8 204.6 L73.6 204.5 L74.4 204.3 L75.2 203.5 L76.0 204.0 L76.8 202.9 L77.6 202.9 L78.4 203.5 L79.2 202.3 L80.0 202.2 L80.8 201.4 L81.6 201.0 L82.4 200.2 L83.2 199.5 L84.0 198.8 L84.8 198.1 L85.6 196.7 L86.4 195.8 L87.2 194.0 L88.0 193.3 L88.8 191.9 L89.6 190.9 L90.4 189.3 L91.2 188.1 L92.0 187.2 L92.8 185.7 L93.6 184.3 L94.4 182.7 L95.2 181.4 L96.0 180.1 L96.8 178.6 L97.6 176.7 L98.4 175.2 L99.2 173.7 L100.0 171.5 L100.8 170.1 L101.6 167.8 L102.4 165.5 L103.2 162.6 L104.0 160.4 L104.8 158.2 L105.6 156.0 L106.4 153.6 L107.2 151.7 L108.0 149.4 L108.8 147.0 L109.6 144.2 L110.4 142.8 L111.2 140.1 L112.0 138.1 L112.8 135.6 L113.6 133.6 L114.4 131.5 L115.2 129.2 L116.0 127.3 L116.8 124.9 L117.6 123.5 L118.4 120.6 L119.2 119.1 L120.0 117.8 L120.8 115.9 L121.6 114.2 L122.4 112.2 L123.2 111.3 L124.0 108.7 L124.8 107.4 L125.6 105.2 L126.4 103.1 L127.2 101.0 L128.0 98.3 L128.8 96.2 L129.6 94.3 L130.4 91.9 L131.2 90.4 L132.0 87.8 L132.8 85.6 L133.6 82.9 L134.4 80.8 L135.2 78.3 L136.0 76.1 L136.8 73.7 L137.6 72.1 L138.4 69.8 L139.2 67.4 L140.0 66.3 L140.8 64.3 L141.6 62.6 L142.4 62.1 L143.2 60.3 L144.0 59.2 L144.8 58.7 L145.6 58.4 L146.4 57.9 L147.2 58.0 L148.0 57.7 L148.8 57.0 L149.6 57.0 L150.4 57.0 L151.2 56.5 L152.0 56.3 L152.8 56.5 L153.6 56.3 L154.4 55.7 L155.2 55.8 L156.0 55.7 L156.8 55.6 L157.6 55.4 L158.4 55.8 L159.2 55.1 L160.0 55.0 L160.8 55.3 L161.6 54.6 L162.4 54.8 L163.2 55.2 L164.0 54.6 L164.8 54.7 L165.6 55.1 L166.4 54.9 L167.2 54.7 L168.0 54.7 L168.8 54.4 L169.6 54.6 L170.4 54.4 L171.2 55.0 L172.0 54.5 L172.8 54.2 L173.6 54.2 L174.4 54.2 L175.2 53.8 L176.0 53.9 L176.8 54.4 L177.6 53.7 L178.4 53.8 L179.2 54.2 L180.0 54.2 L180.8 53.6 L181.6 54.1 L182.4 53.6 L183.2 54.1 L184.0 53.7 L184.8 53.5 L185.6 53.7 L186.4 53.6 L187.2 53.2 L188.0 53.9 L188.8 53.2 L189.6 53.5 L190.4 53.0 L191.2 52.6 L192.0 52.8 L192.8 52.9 L193.6 53.1 L194.4 53.3 L195.2 52.8 L196.0 52.6 L196.8 52.3 L197.6 52.5 L198.4 52.5 L199.2 51.8 L200.0 52.6 L200.8 52.5 L201.6 52.7 L202.4 51.9 L203.2 52.0 L204.0 51.9 L204.8 51.5 L205.6 51.6 L206.4 51.5 L207.2 51.8 L208.0 51.7 L208.8 51.8 L209.6 51.3 L210.4 51.0 L211.2 51.4 L212.0 51.3 L212.8 51.3 L213.6 51.4 L214.4 50.9 L215.2 51.2 L216.0 50.7 L216.8 50.9 L217.6 51.0 L218.4 50.7 L219.2 50.8 L220.0 50.3 L220.8 50.4 L221.6 50.6 L222.4 50.2 L223.2 50.2 L224.0 51.0 L224.8 50.4 L225.6 50.1 L226.4 50.0 L227.2 50.6 L228.0 49.5 L228.8 50.0 L229.6 50.2 L230.4 49.9 L231.2 50.1 L232.0 49.7 L232.8 49.9 L233.6 49.8 L234.4 49.8 L235.2 49.8 L236.0 49.7 L236.8 49.9 L237.6 49.6 L238.4 49.4 L239.2 49.5 L240.0 49.4 L240.8 49.1 L241.6 48.9 L242.4 49.0 L243.2 49.4 L244.0 49.1 L244.8 49.1 L245.6 49.9 L246.4 49.4 L247.2 49.0 L248.0 48.9 L248.8 49.3 L249.6 48.7 L250.4 49.2 L251.2 49.0 L252.0 49.1 L252.8 48.6 L253.6 48.9 L254.4 48.2 L255.2 48.5 L256.0 48.8 L256.8 48.7 L257.6 48.0 L258.4 48.6 L259.2 48.4 L260.0 48.3 L260.8 48.1 L261.6 48.1 L262.4 48.0 L263.2 48.3 L264.0 48.1 L264.8 48.2 L265.6 48.1 L266.4 47.6 L267.2 47.9 L268.0 48.3 L268.8 47.4 L269.6 47.7 L270.4 47.4 L271.2 47.3 L272.0 47.6 L272.8 47.7 L273.6 47.6 L274.4 47.5 L275.2 47.5 L276.0 46.8 L276.8 47.4 L277.6 47.3 L278.4 47.1 L279.2 47.0 L280.0 46.8 L280.8 47.2 L281.6 46.7 L282.4 46.5 L283.2 46.8 L284.0 46.6 L284.8 46.7 L285.6 47.0 L286.4 46.6 L287.2 46.6 L288.0 47.1 L288.8 46.1 L289.6 46.5 L290.4 46.6 L291.2 46.7 L292.0 46.8 L292.8 46.0 L293.6 46.3 L294.4 46.1 L295.2 45.9 L296.0 45.8 L296.8 45.6 L297.6 46.0 L298.4 46.0 L299.2 45.5 L300.0 46.0 L300.8 45.6 L301.6 45.4 L302.4 45.0 L303.2 45.9 L304.0 45.7 L304.8 45.4 L305.6 45.3 L306.4 45.1 L307.2 45.5 L308.0 45.3 L308.8 45.4 L309.6 45.3 L310.4 44.8 L311.2 44.7 L312.0 45.2 L312.8 44.6 L313.6 45.1 L314.4 45.2 L315.2 44.6 L316.0 45.0 L316.8 44.8 L317.6 44.9 L318.4 44.6 L319.2 44.7 L320.0 44.7 L320.8 45.1 L321.6 44.7 L322.4 44.6 L323.2 44.1 L324.0 44.5 L324.8 44.2 L325.6 44.3 L326.4 44.4 L327.2 44.5 L328.0 44.4 L328.8 44.2 L329.6 44.1 L330.4 44.4 L331.2 43.8 L332.0 44.0 L332.8 44.3 L333.6 43.9 L334.4 44.1 L335.2 44.0 L336.0 44.3 L336.8 44.0 L337.6 43.3 L338.4 43.6 L339.2 43.7 L340.0 43.8 L340.8 43.6 L341.6 43.9 L342.4 43.7 L343.2 43.1 L344.0 43.2 L344.8 42.8 L345.6 43.7 L346.4 43.2 L347.2 43.1 L348.0 42.7 L348.8 43.0 L349.6 43.2 L350.4 42.9 L351.2 42.9 L352.0 42.8 L352.8 43.4 L353.0 42.7" fill="none" stroke="#150f9c" stroke-width="2.0" stroke-linejoin="round" stroke-linecap="round" />
<path d="M60.0 239.5 L60.8 237.7 L61.6 235.8 L62.4 234.0 L63.2 232.1 L64.0 230.2 L64.8 228.9 L65.6 227.5 L66.4 225.6 L67.2 225.4 L68.0 224.3 L68.8 222.2 L69.6 221.8 L70.4 221.5 L71.2 220.9 L72.0 220.3 L72.8 218.5 L73.6 218.0 L74.4 217.4 L75.2 216.9 L76.0 215.6 L76.8 215.2 L77.6 214.4 L78.4 213.6 L79.2 212.2 L80.0 211.7 L80.8 210.7 L81.6 209.6 L82.4 209.0 L83.2 207.4 L84.0 206.8 L84.8 205.0 L85.6 204.4 L86.4 203.1 L87.2 201.0 L88.0 200.1 L88.8 198.7 L89.6 196.9 L90.4 196.0 L91.2 194.4 L92.0 192.5 L92.8 191.2 L93.6 189.8 L94.4 187.8 L95.2 186.0 L96.0 184.9 L96.8 182.2 L97.6 180.7 L98.4 179.0 L99.2 176.8 L100.0 174.0 L100.8 172.4 L101.6 170.4 L102.4 168.2 L103.2 166.3 L104.0 164.1 L104.8 161.8 L105.6 159.5 L106.4 157.5 L107.2 155.2 L108.0 151.8 L108.8 150.5 L109.6 147.1 L110.4 144.8 L111.2 141.4 L112.0 139.0 L112.8 136.2 L113.6 134.5 L114.4 132.0 L115.2 129.4 L116.0 127.0 L116.8 124.7 L117.6 121.8 L118.4 119.3 L119.2 116.7 L120.0 114.5 L120.8 111.4 L121.6 108.1 L122.4 105.5 L123.2 102.3 L124.0 99.4 L124.8 95.5 L125.6 92.4 L126.4 89.7 L127.2 86.3 L128.0 84.1 L128.8 82.4 L129.6 80.3 L130.4 78.8 L131.2 76.9 L132.0 75.1 L132.8 73.9 L133.6 71.9 L134.4 70.2 L135.2 68.9 L136.0 67.6 L136.8 66.5 L137.6 65.4 L138.4 64.5 L139.2 62.5 L140.0 61.6 L140.8 60.1 L141.6 59.7 L142.4 58.8 L143.2 57.4 L144.0 56.3 L144.8 55.2 L145.6 53.9 L146.4 53.3 L147.2 52.5 L148.0 50.5 L148.8 50.2 L149.6 48.7 L150.4 47.4 L151.2 47.1 L152.0 46.3 L152.8 45.3 L153.6 44.4 L154.4 44.3 L155.2 43.1 L156.0 42.9 L156.8 42.3 L157.6 41.3 L158.4 40.4 L159.2 39.9 L160.0 39.9 L160.8 39.7 L161.6 38.7 L162.4 38.6 L163.2 39.0 L164.0 37.7 L164.8 38.0 L165.6 37.7 L166.4 37.6 L167.2 36.6 L168.0 36.9 L168.8 36.1 L169.6 36.6 L170.4 35.7 L171.2 35.8 L172.0 35.2 L172.8 35.2 L173.6 34.4 L174.4 34.7 L175.2 34.5 L176.0 34.1 L176.8 34.3 L177.6 33.6 L178.4 33.5 L179.2 33.2 L180.0 33.3 L180.8 32.3 L181.6 32.2 L182.4 32.0 L183.2 32.0 L184.0 31.6 L184.8 31.6 L185.6 31.2 L186.4 30.7 L187.2 30.7 L188.0 30.6 L188.8 29.6 L189.6 30.6 L190.4 29.8 L191.2 29.7 L192.0 29.7 L192.8 29.4 L193.6 28.9 L194.4 29.1 L195.2 29.4 L196.0 29.2 L196.8 29.1 L197.6 28.4 L198.4 28.3 L199.2 28.6 L200.0 28.6 L200.8 28.0 L201.6 27.5 L202.4 27.1 L203.2 28.0 L204.0 27.0 L204.8 27.4 L205.6 27.5 L206.4 28.1 L207.2 27.0 L208.0 26.8 L208.8 26.9 L209.6 26.9 L210.4 27.0 L211.2 26.8 L212.0 26.2 L212.8 25.8 L213.6 26.5 L214.4 26.1 L215.2 26.7 L216.0 25.9 L216.8 26.3 L217.6 26.0 L218.4 25.9 L219.2 26.7 L220.0 26.2 L220.8 26.0 L221.6 26.3 L222.4 25.8 L223.2 25.9 L224.0 25.8 L224.8 26.6 L225.6 26.1 L226.4 26.1 L227.2 26.3 L228.0 25.9 L228.8 25.9 L229.6 25.4 L230.4 26.0 L231.2 25.9 L232.0 25.7 L232.8 26.2 L233.6 25.3 L234.4 25.9 L235.2 25.4 L236.0 25.4 L236.8 25.7 L237.6 26.2 L238.4 25.4 L239.2 25.4 L240.0 25.3 L240.8 26.3 L241.6 25.8 L242.4 25.8 L243.2 26.3 L244.0 25.7 L244.8 25.0 L245.6 25.4 L246.4 25.2 L247.2 26.2 L248.0 25.1 L248.8 25.6 L249.6 25.3 L250.4 25.3 L251.2 25.4 L252.0 25.4 L252.8 25.2 L253.6 25.0 L254.4 25.1 L255.2 25.0 L256.0 25.0 L256.8 25.3 L257.6 25.2 L258.4 25.4 L259.2 25.1 L260.0 25.7 L260.8 24.9 L261.6 24.8 L262.4 25.4 L263.2 24.8 L264.0 25.0 L264.8 25.3 L265.6 24.9 L266.4 24.8 L267.2 25.2 L268.0 25.0 L268.8 24.7 L269.6 24.4 L270.4 24.7 L271.2 24.2 L272.0 24.4 L272.8 24.3 L273.6 24.7 L274.4 24.9 L275.2 24.4 L276.0 24.4 L276.8 24.2 L277.6 24.1 L278.4 24.3 L279.2 24.6 L280.0 24.5 L280.8 24.5 L281.6 24.2 L282.4 23.4 L283.2 24.6 L284.0 24.6 L284.8 24.5 L285.6 24.4 L286.4 24.5 L287.2 24.9 L288.0 24.2 L288.8 24.5 L289.6 24.3 L290.4 24.2 L291.2 23.9 L292.0 23.8 L292.8 23.5 L293.6 24.0 L294.4 23.7 L295.2 23.4 L296.0 23.5 L296.8 23.4 L297.6 24.2 L298.4 23.6 L299.2 23.7 L300.0 23.2 L300.8 23.2 L301.6 23.9 L302.4 23.4 L303.2 23.5 L304.0 24.0 L304.8 24.0 L305.6 23.6 L306.4 23.5 L307.2 23.3 L308.0 23.1 L308.8 23.8 L309.6 22.8 L310.4 23.1 L311.2 22.5 L312.0 22.6 L312.8 23.1 L313.6 23.1 L314.4 23.0 L315.2 22.8 L316.0 22.6 L316.8 22.6 L317.6 22.6 L318.4 23.1 L319.2 23.1 L320.0 22.8 L320.8 22.5 L321.6 22.3 L322.4 22.7 L323.2 22.5 L324.0 21.9 L324.8 22.9 L325.6 22.5 L326.4 22.4 L327.2 22.2 L328.0 22.2 L328.8 22.7 L329.6 22.1 L330.4 22.4 L331.2 22.6 L332.0 23.0 L332.8 22.6 L333.6 22.4 L334.4 22.2 L335.2 22.6 L336.0 22.7 L336.8 22.2 L337.6 22.5 L338.4 22.3 L339.2 21.8 L340.0 22.0 L340.8 22.6 L341.6 22.8 L342.4 22.5 L343.2 22.3 L344.0 22.1 L344.8 22.5 L345.6 22.4 L346.4 21.8 L347.2 22.5 L348.0 22.1 L348.8 22.5 L349.6 22.5 L350.4 22.5 L351.2 22.6 L352.0 22.5 L352.8 22.0 L353.0 22.0" fill="none" stroke="#150f9c" stroke-width="2.0" stroke-linejoin="round" stroke-linecap="round" />
<path d="M60.0 216.2 L60.8 214.8 L61.6 213.3 L62.4 212.1 L63.2 211.6 L64.0 210.8 L64.8 209.8 L65.6 208.8 L66.4 208.1 L67.2 206.9 L68.0 206.5 L68.8 206.1 L69.6 205.5 L70.4 204.5 L71.2 204.6 L72.0 204.1 L72.8 203.8 L73.6 203.3 L74.4 203.1 L75.2 202.6 L76.0 202.6 L76.8 202.5 L77.6 201.9 L78.4 201.8 L79.2 201.4 L80.0 201.2 L80.8 200.8 L81.6 199.7 L82.4 199.5 L83.2 198.8 L84.0 197.7 L84.8 196.8 L85.6 195.7 L86.4 194.5 L87.2 193.5 L88.0 192.6 L88.8 191.3 L89.6 190.3 L90.4 189.0 L91.2 187.7 L92.0 186.1 L92.8 184.8 L93.6 183.5 L94.4 181.9 L95.2 180.1 L96.0 178.4 L96.8 176.8 L97.6 175.4 L98.4 173.9 L99.2 172.0 L100.0 170.9 L100.8 169.5 L101.6 168.1 L102.4 166.5 L103.2 165.6 L104.0 164.0 L104.8 162.3 L105.6 161.1 L106.4 160.0 L107.2 158.6 L108.0 157.3 L108.8 156.0 L109.6 154.7 L110.4 153.4 L111.2 152.1 L112.0 151.1 L112.8 149.4 L113.6 148.5 L114.4 147.7 L115.2 146.3 L116.0 145.1 L116.8 144.3 L117.6 142.8 L118.4 141.2 L119.2 139.4 L120.0 137.7 L120.8 135.9 L121.6 134.2 L122.4 132.6 L123.2 131.3 L124.0 129.6 L124.8 128.0 L125.6 126.7 L126.4 125.6 L127.2 124.3 L128.0 123.1 L128.8 122.7 L129.6 121.7 L130.4 120.7 L131.2 119.8 L132.0 119.1 L132.8 118.4 L133.6 117.2 L134.4 116.5 L135.2 115.4 L136.0 114.8 L136.8 113.8 L137.6 113.0 L138.4 112.6 L139.2 112.0 L140.0 111.5 L140.8 110.7 L141.6 110.5 L142.4 109.7 L143.2 109.4 L144.0 108.5 L144.8 108.3 L145.6 107.5 L146.4 107.1 L147.2 106.8 L148.0 106.0 L148.8 105.7 L149.6 105.8 L150.4 104.9 L151.2 104.7 L152.0 104.5 L152.8 104.3 L153.6 103.7 L154.4 103.5 L155.2 103.0 L156.0 102.8 L156.8 102.7 L157.6 102.4 L158.4 102.1 L159.2 101.9 L160.0 101.7 L160.8 101.6 L161.6 101.3 L162.4 101.1 L163.2 101.2 L164.0 100.8 L164.8 101.0 L165.6 101.1 L166.4 100.9 L167.2 100.9 L168.0 100.3 L168.8 100.4 L169.6 100.1 L170.4 100.0 L171.2 99.8 L172.0 99.7 L172.8 99.9 L173.6 99.8 L174.4 99.8 L175.2 99.6 L176.0 99.5 L176.8 99.1 L177.6 99.1 L178.4 99.1 L179.2 99.1 L180.0 98.8 L180.8 98.6 L181.6 98.5 L182.4 98.7 L183.2 98.5 L184.0 98.2 L184.8 98.1 L185.6 98.2 L186.4 97.7 L187.2 97.9 L188.0 97.7 L188.8 97.6 L189.6 97.7 L190.4 97.6 L191.2 97.9 L192.0 97.4 L192.8 97.4 L193.6 97.1 L194.4 96.9 L195.2 97.3 L196.0 97.3 L196.8 96.8 L197.6 96.9 L198.4 97.0 L199.2 96.8 L200.0 96.3 L200.8 96.8 L201.6 96.5 L202.4 96.6 L203.2 96.3 L204.0 96.5 L204.8 96.5 L205.6 96.1 L206.4 96.3 L207.2 96.0 L208.0 96.0 L208.8 95.8 L209.6 95.8 L210.4 95.7 L211.2 96.0 L212.0 95.7 L212.8 95.4 L213.6 95.8 L214.4 95.5 L215.2 95.5 L216.0 95.3 L216.8 95.3 L217.6 95.1 L218.4 94.9 L219.2 94.9 L220.0 94.8 L220.8 94.7 L221.6 94.8 L222.4 94.2 L223.2 94.5 L224.0 94.2 L224.8 94.1 L225.6 94.1 L226.4 94.0 L227.2 93.7 L228.0 93.9 L228.8 93.6 L229.6 93.6 L230.4 93.6 L231.2 93.2 L232.0 93.0 L232.8 93.1 L233.6 93.0 L234.4 92.9 L235.2 92.5 L236.0 92.3 L236.8 92.3 L237.6 92.2 L238.4 92.3 L239.2 92.1 L240.0 92.2 L240.8 91.9 L241.6 92.1 L242.4 91.7 L243.2 91.7 L244.0 91.5 L244.8 91.5 L245.6 91.5 L246.4 91.4 L247.2 91.4 L248.0 91.0 L248.8 91.1 L249.6 91.2 L250.4 90.9 L251.2 90.8 L252.0 90.7 L252.8 90.6 L253.6 90.6 L254.4 90.7 L255.2 90.5 L256.0 90.4 L256.8 90.2 L257.6 90.1 L258.4 90.6 L259.2 90.1 L260.0 90.1 L260.8 89.9 L261.6 90.0 L262.4 89.8 L263.2 89.9 L264.0 90.0 L264.8 89.6 L265.6 89.7 L266.4 89.6 L267.2 89.7 L268.0 89.4 L268.8 89.5 L269.6 89.2 L270.4 89.0 L271.2 89.1 L272.0 89.1 L272.8 89.0 L273.6 89.1 L274.4 89.2 L275.2 88.8 L276.0 89.0 L276.8 88.9 L277.6 88.7 L278.4 88.7 L279.2 88.8 L280.0 88.8 L280.8 88.6 L281.6 88.6 L282.4 88.5 L283.2 88.3 L284.0 88.5 L284.8 88.5 L285.6 88.6 L286.4 88.1 L287.2 88.1 L288.0 88.2 L288.8 88.1 L289.6 88.1 L290.4 88.1 L291.2 88.0 L292.0 88.0 L292.8 88.0 L293.6 87.6 L294.4 87.9 L295.2 87.4 L296.0 88.0 L296.8 87.8 L297.6 87.6 L298.4 87.7 L299.2 87.5 L300.0 87.6 L300.8 87.6 L301.6 87.5 L302.4 87.4 L303.2 87.4 L304.0 87.2 L304.8 87.2 L305.6 87.0 L306.4 86.9 L307.2 87.3 L308.0 87.1 L308.8 86.8 L309.6 87.0 L310.4 86.9 L311.2 86.5 L312.0 86.7 L312.8 86.7 L313.6 87.0 L314.4 86.8 L315.2 86.8 L316.0 86.6 L316.8 86.7 L317.6 86.3 L318.4 86.5 L319.2 86.5 L320.0 86.2 L320.8 86.3 L321.6 86.5 L322.4 86.5 L323.2 86.4 L324.0 86.0 L324.8 86.1 L325.6 86.0 L326.4 86.2 L327.2 85.8 L328.0 85.8 L328.8 85.6 L329.6 85.9 L330.4 85.9 L331.2 85.7 L332.0 85.6 L332.8 85.6 L333.6 85.8 L334.4 85.4 L335.2 85.5 L336.0 85.5 L336.8 85.5 L337.6 85.6 L338.4 85.5 L339.2 85.4 L340.0 85.5 L340.8 85.5 L341.6 85.3 L342.4 85.2 L343.2 85.0 L344.0 85.1 L344.8 85.0 L345.6 84.9 L346.4 85.0 L347.2 84.7 L348.0 84.8 L348.8 84.8 L349.6 84.9 L350.4 84.8 L351.2 84.8 L352.0 85.0 L352.8 84.8 L353.0 84.5" fill="none" stroke="#5a1c96" stroke-width="2.7" stroke-linejoin="round" stroke-linecap="round" />
<path d="M60.0 216.2 L60.8 214.8 L61.6 213.3 L62.4 212.1 L63.2 211.6 L64.0 210.8 L64.8 209.8 L65.6 208.8 L66.4 208.1 L67.2 206.9 L68.0 206.5 L68.8 206.1 L69.6 205.5 L70.4 204.5 L71.2 204.6 L72.0 204.1 L72.8 203.8 L73.6 203.3 L74.4 203.1 L75.2 202.6 L76.0 202.6 L76.8 202.5 L77.6 201.9 L78.4 201.8 L79.2 201.4 L80.0 201.2 L80.8 200.8 L81.6 199.7 L82.4 199.5 L83.2 198.8 L84.0 197.7 L84.8 196.8 L85.6 195.7 L86.4 194.5 L87.2 193.5 L88.0 192.6 L88.8 191.3 L89.6 190.3 L90.4 189.0 L91.2 187.7 L92.0 186.1 L92.8 184.8 L93.6 183.5 L94.4 181.9 L95.2 180.1 L96.0 178.4 L96.8 176.8 L97.6 175.4 L98.4 173.9 L99.2 172.0 L100.0 170.9 L100.8 169.5 L101.6 168.1 L102.4 166.5 L103.2 165.6 L104.0 164.0 L104.8 162.3 L105.6 161.1 L106.4 160.0 L107.2 158.6 L108.0 157.3 L108.8 156.0 L109.6 154.7 L110.4 153.4 L111.2 152.1 L112.0 151.1 L112.8 149.4 L113.6 148.5 L114.4 147.7 L115.2 146.3 L116.0 145.1 L116.8 144.3 L117.6 142.8 L118.4 141.2 L119.2 139.4 L120.0 137.7 L120.8 135.9 L121.6 134.2 L122.4 132.6 L123.2 131.3 L124.0 129.6 L124.8 128.0 L125.6 126.7 L126.4 125.6 L127.2 124.3 L128.0 123.1 L128.8 122.7 L129.6 121.7 L130.4 120.7 L131.2 119.8 L132.0 119.1 L132.8 118.4 L133.6 117.2 L134.4 116.5 L135.2 115.4 L136.0 114.8 L136.8 113.8 L137.6 113.0 L138.4 112.6 L139.2 112.0 L140.0 111.5 L140.8 110.7 L141.6 110.5 L142.4 109.7 L143.2 109.4 L144.0 108.5 L144.8 108.3 L145.6 107.5 L146.4 107.1 L147.2 106.8 L148.0 106.0 L148.8 105.7 L149.6 105.8 L150.4 104.9 L151.2 104.7 L152.0 104.5 L152.8 104.3 L153.6 103.7 L154.4 103.5 L155.2 103.0 L156.0 102.8 L156.8 102.7 L157.6 102.4 L158.4 102.1 L159.2 101.9 L160.0 101.7 L160.8 101.6 L161.6 101.3 L162.4 101.1 L163.2 101.2 L164.0 100.8 L164.8 101.0 L165.6 101.1 L166.4 100.9 L167.2 100.9 L168.0 100.3 L168.8 100.4 L169.6 100.1 L170.4 100.0 L171.2 99.8 L172.0 99.7 L172.8 99.9 L173.6 99.8 L174.4 99.8 L175.2 99.6 L176.0 99.5 L176.8 99.1 L177.6 99.1 L178.4 99.1 L179.2 99.1 L180.0 98.8 L180.8 98.6 L181.6 98.5 L182.4 98.7 L183.2 98.5 L184.0 98.2 L184.8 98.1 L185.6 98.2 L186.4 97.7 L187.2 97.9 L188.0 97.7 L188.8 97.6 L189.6 97.7 L190.4 97.6 L191.2 97.9 L192.0 97.4 L192.8 97.4 L193.6 97.1 L194.4 96.9 L195.2 97.3 L196.0 97.3 L196.8 96.8 L197.6 96.9 L198.4 97.0 L199.2 96.8 L200.0 96.3 L200.8 96.8 L201.6 96.5 L202.4 96.6 L203.2 96.3 L204.0 96.5 L204.8 96.5 L205.6 96.1 L206.4 96.3 L207.2 96.0 L208.0 96.0 L208.8 95.8 L209.6 95.8 L210.4 95.7 L211.2 96.0 L212.0 95.7 L212.8 95.4 L213.6 95.8 L214.4 95.5 L215.2 95.5 L216.0 95.3 L216.8 95.3 L217.6 95.1 L218.4 94.9 L219.2 94.9 L220.0 94.8 L220.8 94.7 L221.6 94.8 L222.4 94.2 L223.2 94.5 L224.0 94.2 L224.8 94.1 L225.6 94.1 L226.4 94.0 L227.2 93.7 L228.0 93.9 L228.8 93.6 L229.6 93.6 L230.4 93.6 L231.2 93.2 L232.0 93.0 L232.8 93.1 L233.6 93.0 L234.4 92.9 L235.2 92.5 L236.0 92.3 L236.8 92.3 L237.6 92.2 L238.4 92.3 L239.2 92.1 L240.0 92.2 L240.8 91.9 L241.6 92.1 L242.4 91.7 L243.2 91.7 L244.0 91.5 L244.8 91.5 L245.6 91.5 L246.4 91.4 L247.2 91.4 L248.0 91.0 L248.8 91.1 L249.6 91.2 L250.4 90.9 L251.2 90.8 L252.0 90.7 L252.8 90.6 L253.6 90.6 L254.4 90.7 L255.2 90.5 L256.0 90.4 L256.8 90.2 L257.6 90.1 L258.4 90.6 L259.2 90.1 L260.0 90.1 L260.8 89.9 L261.6 90.0 L262.4 89.8 L263.2 89.9 L264.0 90.0 L264.8 89.6 L265.6 89.7 L266.4 89.6 L267.2 89.7 L268.0 89.4 L268.8 89.5 L269.6 89.2 L270.4 89.0 L271.2 89.1 L272.0 89.1 L272.8 89.0 L273.6 89.1 L274.4 89.2 L275.2 88.8 L276.0 89.0 L276.8 88.9 L277.6 88.7 L278.4 88.7 L279.2 88.8 L280.0 88.8 L280.8 88.6 L281.6 88.6 L282.4 88.5 L283.2 88.3 L284.0 88.5 L284.8 88.5 L285.6 88.6 L286.4 88.1 L287.2 88.1 L288.0 88.2 L288.8 88.1 L289.6 88.1 L290.4 88.1 L291.2 88.0 L292.0 88.0 L292.8 88.0 L293.6 87.6 L294.4 87.9 L295.2 87.4 L296.0 88.0 L296.8 87.8 L297.6 87.6 L298.4 87.7 L299.2 87.5 L300.0 87.6 L300.8 87.6 L301.6 87.5 L302.4 87.4 L303.2 87.4 L304.0 87.2 L304.8 87.2 L305.6 87.0 L306.4 86.9 L307.2 87.3 L308.0 87.1 L308.8 86.8 L309.6 87.0 L310.4 86.9 L311.2 86.5 L312.0 86.7 L312.8 86.7 L313.6 87.0 L314.4 86.8 L315.2 86.8 L316.0 86.6 L316.8 86.7 L317.6 86.3 L318.4 86.5 L319.2 86.5 L320.0 86.2 L320.8 86.3 L321.6 86.5 L322.4 86.5 L323.2 86.4 L324.0 86.0 L324.8 86.1 L325.6 86.0 L326.4 86.2 L327.2 85.8 L328.0 85.8 L328.8 85.6 L329.6 85.9 L330.4 85.9 L331.2 85.7 L332.0 85.6 L332.8 85.6 L333.6 85.8 L334.4 85.4 L335.2 85.5 L336.0 85.5 L336.8 85.5 L337.6 85.6 L338.4 85.5 L339.2 85.4 L340.0 85.5 L340.8 85.5 L341.6 85.3 L342.4 85.2 L343.2 85.0 L344.0 85.1 L344.8 85.0 L345.6 84.9 L346.4 85.0 L347.2 84.7 L348.0 84.8 L348.8 84.8 L349.6 84.9 L350.4 84.8 L351.2 84.8 L352.0 85.0 L352.8 84.8 L353.0 84.5" fill="none" stroke="#160418" stroke-width="1.5" stroke-linejoin="round" stroke-linecap="round" />
<path d="M160 39.5 L160.8 33.4 L161.8 39.2 M167 37.4 L167.7 35.2 L168.5 37" stroke="#150f9c" stroke-width="1.1" fill="none"/>
</g>
<rect x="59.5" y="6.6" width="293.5" height="217.4" fill="none" stroke="#17171c" stroke-width="1.3"/>
<path d="M59.5 213.98h-4.3M59.5 195.14h-4.3M59.5 176.30h-4.3M59.5 157.46h-4.3M59.5 138.62h-4.3M59.5 119.78h-4.3M59.5 100.94h-4.3M59.5 82.10h-4.3M59.5 63.26h-4.3M59.5 44.42h-4.3M59.5 25.58h-4.3M59.5 6.74h-4.3M59.5 223.40h-2.3M59.5 204.56h-2.3M59.5 185.72h-2.3M59.5 166.88h-2.3M59.5 148.04h-2.3M59.5 129.20h-2.3M59.5 110.36h-2.3M59.5 91.52h-2.3M59.5 72.68h-2.3M59.5 53.84h-2.3M59.5 35.00h-2.3M59.5 16.16h-2.3" stroke="#17171c" stroke-width="1.1" fill="none"/>
<text transform="translate(52.2 218.4) scale(1 1.08)" font-size="13.3" text-anchor="end" >-0.4</text>
<text transform="translate(52.2 199.5) scale(1 1.08)" font-size="13.3" text-anchor="end" >-0.2</text>
<text transform="translate(52.2 180.7) scale(1 1.08)" font-size="13.3" text-anchor="end" >0.0</text>
<text transform="translate(52.2 161.9) scale(1 1.08)" font-size="13.3" text-anchor="end" >0.2</text>
<text transform="translate(52.2 143.0) scale(1 1.08)" font-size="13.3" text-anchor="end" >0.4</text>
<text transform="translate(52.2 124.2) scale(1 1.08)" font-size="13.3" text-anchor="end" >0.6</text>
<text transform="translate(52.2 105.3) scale(1 1.08)" font-size="13.3" text-anchor="end" >0.8</text>
<text transform="translate(52.2 86.5) scale(1 1.08)" font-size="13.3" text-anchor="end" >1.0</text>
<text transform="translate(52.2 67.7) scale(1 1.08)" font-size="13.3" text-anchor="end" >1.2</text>
<text transform="translate(52.2 48.8) scale(1 1.08)" font-size="13.3" text-anchor="end" >1.4</text>
<text transform="translate(52.2 30.0) scale(1 1.08)" font-size="13.3" text-anchor="end" >1.6</text>
<text transform="translate(52.2 11.1) scale(1 1.08)" font-size="13.3" text-anchor="end" >1.8</text>
<path d="M60.00 224.0v4.3M89.30 224.0v4.3M118.60 224.0v4.3M147.90 224.0v4.3M177.20 224.0v4.3M206.50 224.0v4.3M235.80 224.0v4.3M265.10 224.0v4.3M294.40 224.0v4.3M323.70 224.0v4.3M353.00 224.0v4.3M74.65 224.0v2.3M103.95 224.0v2.3M133.25 224.0v2.3M162.55 224.0v2.3M191.85 224.0v2.3M221.15 224.0v2.3M250.45 224.0v2.3M279.75 224.0v2.3M309.05 224.0v2.3M338.35 224.0v2.3" stroke="#17171c" stroke-width="1.1" fill="none"/>
<text transform="translate(60.0 241.8) scale(1 1.08)" font-size="13.3" text-anchor="middle" >0.0</text>
<text transform="translate(89.3 241.8) scale(1 1.08)" font-size="13.3" text-anchor="middle" >0.2</text>
<text transform="translate(118.6 241.8) scale(1 1.08)" font-size="13.3" text-anchor="middle" >0.4</text>
<text transform="translate(147.9 241.8) scale(1 1.08)" font-size="13.3" text-anchor="middle" >0.6</text>
<text transform="translate(177.2 241.8) scale(1 1.08)" font-size="13.3" text-anchor="middle" >0.8</text>
<text transform="translate(206.5 241.8) scale(1 1.08)" font-size="13.3" text-anchor="middle" >1.0</text>
<text transform="translate(235.8 241.8) scale(1 1.08)" font-size="13.3" text-anchor="middle" >1.2</text>
<text transform="translate(265.1 241.8) scale(1 1.08)" font-size="13.3" text-anchor="middle" >1.4</text>
<text transform="translate(294.4 241.8) scale(1 1.08)" font-size="13.3" text-anchor="middle" >1.6</text>
<text transform="translate(323.7 241.8) scale(1 1.08)" font-size="13.3" text-anchor="middle" >1.8</text>
<text transform="translate(353.0 241.8) scale(1 1.08)" font-size="13.3" text-anchor="middle" >2.0</text>
<text transform="translate(206.6 264.5) scale(1 1.05)" font-size="15" text-anchor="middle" >Potential / V vs RHE</text>
<text transform="translate(17.8 229) rotate(-90)" font-size="15.1" text-anchor="start">Photocurrent density / mA cm<tspan font-size="12.5" dy="-5.5">-2</tspan></text>
<rect x="63.7" y="12.3" width="23.6" height="26" fill="#000"/>
<text x="75.5" y="31.8" font-size="33" fill="#fff" class="w" text-anchor="middle">a</text>
<text transform="translate(196 24) scale(1 1.08)" font-size="10.9" text-anchor="start" >S-60-80</text>
<text transform="translate(196 48.5) scale(1 1.08)" font-size="10.9" text-anchor="start" >S-60-100</text>
<text transform="translate(196 67) scale(1 1.08)" font-size="10.9" text-anchor="start" >S-80-80</text>
<text transform="translate(196 82.5) scale(1 1.08)" font-size="10.9" text-anchor="start" >S-60-60</text>
<text transform="translate(194.5 94.5) scale(1 1.08)" font-size="10.9" text-anchor="start" >S-60-20</text>
<text transform="translate(196 111.5) scale(1 1.08)" font-size="10.9" text-anchor="start" >S-60-40</text>
<text transform="translate(193.5 128) scale(1 1.08)" font-size="10.9" text-anchor="start" >S-100-80</text>
<text transform="translate(193.5 141.6) scale(1 1.08)" font-size="10.9" text-anchor="start" >one-step</text>
<text transform="translate(187 172.5) scale(1 1.08)" font-size="13.3" text-anchor="start" >in dark</text>
<rect x="60.25" y="279.8" width="293.85" height="216.7" fill="#fff" stroke="none"/>
<clipPath id="cb"><rect x="60.25" y="279.8" width="293.85" height="220.7"/></clipPath>
<g clip-path="url(#cb)">
<path d="M104.6 487.5 L109.9 481.1 L115.2 476.7 L120.5 472.9 L125.8 469.6 L131.1 467.5 L136.3 466.0 L141.6 465.2 L146.9 464.9 L152.2 465.3 L157.5 465.8 L162.8 466.3 L168.1 467.3 L173.4 468.6 L178.7 470.0 L184.0 471.5 L189.2 473.5 L194.5 476.0 L199.8 478.4 L205.1 480.7 L210.4 482.9 L215.7 484.9 L221.0 486.7 L226.3 488.4 L231.6 490.2 L236.9 492.4 L242.1 495.0" fill="none" stroke="#848484" stroke-width="0.65" stroke-linejoin="round" stroke-linecap="round" />
<g><rect x="102.0" y="484.9" width="5.2" height="5.2" fill="#0a0a0a"/><rect x="107.3" y="478.5" width="5.2" height="5.2" fill="#0a0a0a"/><rect x="112.6" y="474.1" width="5.2" height="5.2" fill="#0a0a0a"/><rect x="117.9" y="470.3" width="5.2" height="5.2" fill="#0a0a0a"/><rect x="123.2" y="467.0" width="5.2" height="5.2" fill="#0a0a0a"/><rect x="128.5" y="464.9" width="5.2" height="5.2" fill="#0a0a0a"/><rect x="133.7" y="463.4" width="5.2" height="5.2" fill="#0a0a0a"/><rect x="139.0" y="462.6" width="5.2" height="5.2" fill="#0a0a0a"/><rect x="144.3" y="462.3" width="5.2" height="5.2" fill="#0a0a0a"/><rect x="149.6" y="462.7" width="5.2" height="5.2" fill="#0a0a0a"/><rect x="154.9" y="463.2" width="5.2" height="5.2" fill="#0a0a0a"/><rect x="160.2" y="463.7" width="5.2" height="5.2" fill="#0a0a0a"/><rect x="165.5" y="464.7" width="5.2" height="5.2" fill="#0a0a0a"/><rect x="170.8" y="466.0" width="5.2" height="5.2" fill="#0a0a0a"/><rect x="176.1" y="467.4" width="5.2" height="5.2" fill="#0a0a0a"/><rect x="181.4" y="468.9" width="5.2" height="5.2" fill="#0a0a0a"/><rect x="186.6" y="470.9" width="5.2" height="5.2" fill="#0a0a0a"/><rect x="191.9" y="473.4" width="5.2" height="5.2" fill="#0a0a0a"/><rect x="197.2" y="475.8" width="5.2" height="5.2" fill="#0a0a0a"/><rect x="202.5" y="478.1" width="5.2" height="5.2" fill="#0a0a0a"/><rect x="207.8" y="480.3" width="5.2" height="5.2" fill="#0a0a0a"/><rect x="213.1" y="482.3" width="5.2" height="5.2" fill="#0a0a0a"/><rect x="218.4" y="484.1" width="5.2" height="5.2" fill="#0a0a0a"/><rect x="223.7" y="485.8" width="5.2" height="5.2" fill="#0a0a0a"/><rect x="229.0" y="487.6" width="5.2" height="5.2" fill="#0a0a0a"/><rect x="234.3" y="489.8" width="5.2" height="5.2" fill="#0a0a0a"/><rect x="239.5" y="492.4" width="5.2" height="5.2" fill="#0a0a0a"/></g>
<path d="M96.2 495.0 L101.5 474.2 L106.8 456.0 L112.1 441.5 L117.4 427.9 L122.7 414.4 L127.9 405.1 L133.2 397.5 L138.5 393.8 L143.8 393.2 L149.1 395.5 L154.4 398.1 L159.7 402.3 L165.0 406.7 L170.3 412.6 L175.6 418.5 L180.8 423.9 L186.1 429.6 L191.4 435.6 L196.7 441.7 L202.0 447.8 L207.3 454.0 L212.6 460.2 L217.9 466.3 L223.2 472.5 L228.5 478.6 L233.7 485.1 L239.0 491.8" fill="none" stroke="#f68a90" stroke-width="0.65" stroke-linejoin="round" stroke-linecap="round" />
<g><circle cx="96.2" cy="495.0" r="3.05" fill="#ee1622"/><circle cx="101.5" cy="474.2" r="3.05" fill="#ee1622"/><circle cx="106.8" cy="456.0" r="3.05" fill="#ee1622"/><circle cx="112.1" cy="441.5" r="3.05" fill="#ee1622"/><circle cx="117.4" cy="427.9" r="3.05" fill="#ee1622"/><circle cx="122.7" cy="414.4" r="3.05" fill="#ee1622"/><circle cx="127.9" cy="405.1" r="3.05" fill="#ee1622"/><circle cx="133.2" cy="397.5" r="3.05" fill="#ee1622"/><circle cx="138.5" cy="393.8" r="3.05" fill="#ee1622"/><circle cx="143.8" cy="393.2" r="3.05" fill="#ee1622"/><circle cx="149.1" cy="395.5" r="3.05" fill="#ee1622"/><circle cx="154.4" cy="398.1" r="3.05" fill="#ee1622"/><circle cx="159.7" cy="402.3" r="3.05" fill="#ee1622"/><circle cx="165.0" cy="406.7" r="3.05" fill="#ee1622"/><circle cx="170.3" cy="412.6" r="3.05" fill="#ee1622"/><circle cx="175.6" cy="418.5" r="3.05" fill="#ee1622"/><circle cx="180.8" cy="423.9" r="3.05" fill="#ee1622"/><circle cx="186.1" cy="429.6" r="3.05" fill="#ee1622"/><circle cx="191.4" cy="435.6" r="3.05" fill="#ee1622"/><circle cx="196.7" cy="441.7" r="3.05" fill="#ee1622"/><circle cx="202.0" cy="447.8" r="3.05" fill="#ee1622"/><circle cx="207.3" cy="454.0" r="3.05" fill="#ee1622"/><circle cx="212.6" cy="460.2" r="3.05" fill="#ee1622"/><circle cx="217.9" cy="466.3" r="3.05" fill="#ee1622"/><circle cx="223.2" cy="472.5" r="3.05" fill="#ee1622"/><circle cx="228.5" cy="478.6" r="3.05" fill="#ee1622"/><circle cx="233.7" cy="485.1" r="3.05" fill="#ee1622"/><circle cx="239.0" cy="491.8" r="3.05" fill="#ee1622"/></g>
<path d="M100.5 495.0 L105.8 462.1 L111.1 435.7 L116.4 415.3 L121.7 406.1 L127.0 404.3 L132.2 404.9 L137.5 407.1 L142.8 410.2 L148.1 413.7 L153.4 417.8 L158.7 421.6 L164.0 426.5 L169.3 431.2 L174.6 435.4 L179.9 439.9 L185.1 444.6 L190.4 449.2 L195.7 454.0 L201.0 459.0 L206.3 464.4 L211.6 469.5 L216.9 474.1 L222.2 478.6 L227.5 483.1 L232.8 487.6 L238.0 492.1" fill="none" stroke="#8989cf" stroke-width="0.65" stroke-linejoin="round" stroke-linecap="round" />
<g><path d="M100.5 491.4l3.5 6.1h-7z" fill="#1414a0"/><path d="M105.8 458.5l3.5 6.1h-7z" fill="#1414a0"/><path d="M111.1 432.1l3.5 6.1h-7z" fill="#1414a0"/><path d="M116.4 411.7l3.5 6.1h-7z" fill="#1414a0"/><path d="M121.7 402.5l3.5 6.1h-7z" fill="#1414a0"/><path d="M127.0 400.7l3.5 6.1h-7z" fill="#1414a0"/><path d="M132.2 401.3l3.5 6.1h-7z" fill="#1414a0"/><path d="M137.5 403.5l3.5 6.1h-7z" fill="#1414a0"/><path d="M142.8 406.6l3.5 6.1h-7z" fill="#1414a0"/><path d="M148.1 410.1l3.5 6.1h-7z" fill="#1414a0"/><path d="M153.4 414.2l3.5 6.1h-7z" fill="#1414a0"/><path d="M158.7 418.0l3.5 6.1h-7z" fill="#1414a0"/><path d="M164.0 422.9l3.5 6.1h-7z" fill="#1414a0"/><path d="M169.3 427.6l3.5 6.1h-7z" fill="#1414a0"/><path d="M174.6 431.8l3.5 6.1h-7z" fill="#1414a0"/><path d="M179.9 436.3l3.5 6.1h-7z" fill="#1414a0"/><path d="M185.1 441.0l3.5 6.1h-7z" fill="#1414a0"/><path d="M190.4 445.6l3.5 6.1h-7z" fill="#1414a0"/><path d="M195.7 450.4l3.5 6.1h-7z" fill="#1414a0"/><path d="M201.0 455.4l3.5 6.1h-7z" fill="#1414a0"/><path d="M206.3 460.8l3.5 6.1h-7z" fill="#1414a0"/><path d="M211.6 465.9l3.5 6.1h-7z" fill="#1414a0"/><path d="M216.9 470.5l3.5 6.1h-7z" fill="#1414a0"/><path d="M222.2 475.0l3.5 6.1h-7z" fill="#1414a0"/><path d="M227.5 479.5l3.5 6.1h-7z" fill="#1414a0"/><path d="M232.8 484.0l3.5 6.1h-7z" fill="#1414a0"/><path d="M238.0 488.5l3.5 6.1h-7z" fill="#1414a0"/></g>
<path d="M99.0 495.0 L104.3 468.0 L109.6 444.1 L114.9 423.5 L120.2 405.1 L125.5 393.1 L130.7 386.2 L136.0 383.2 L141.3 382.9 L146.6 384.1 L151.9 387.6 L157.2 392.6 L162.5 398.2 L167.8 404.4 L173.1 410.5 L178.4 416.7 L183.6 422.9 L188.9 429.3 L194.2 435.8 L199.5 442.4 L204.8 449.0 L210.1 455.7 L215.4 462.3 L220.7 468.7 L226.0 475.1 L231.3 481.6 L236.5 488.4 L241.8 495.0" fill="none" stroke="#c490ed" stroke-width="0.65" stroke-linejoin="round" stroke-linecap="round" />
<g><path d="M99.0 498.6l3.5 -6.1h-7z" fill="#8a22dc"/><path d="M104.3 471.6l3.5 -6.1h-7z" fill="#8a22dc"/><path d="M109.6 447.7l3.5 -6.1h-7z" fill="#8a22dc"/><path d="M114.9 427.1l3.5 -6.1h-7z" fill="#8a22dc"/><path d="M120.2 408.7l3.5 -6.1h-7z" fill="#8a22dc"/><path d="M125.5 396.7l3.5 -6.1h-7z" fill="#8a22dc"/><path d="M130.7 389.8l3.5 -6.1h-7z" fill="#8a22dc"/><path d="M136.0 386.8l3.5 -6.1h-7z" fill="#8a22dc"/><path d="M141.3 386.5l3.5 -6.1h-7z" fill="#8a22dc"/><path d="M146.6 387.7l3.5 -6.1h-7z" fill="#8a22dc"/><path d="M151.9 391.2l3.5 -6.1h-7z" fill="#8a22dc"/><path d="M157.2 396.2l3.5 -6.1h-7z" fill="#8a22dc"/><path d="M162.5 401.8l3.5 -6.1h-7z" fill="#8a22dc"/><path d="M167.8 408.0l3.5 -6.1h-7z" fill="#8a22dc"/><path d="M173.1 414.1l3.5 -6.1h-7z" fill="#8a22dc"/><path d="M178.4 420.3l3.5 -6.1h-7z" fill="#8a22dc"/><path d="M183.6 426.5l3.5 -6.1h-7z" fill="#8a22dc"/><path d="M188.9 432.9l3.5 -6.1h-7z" fill="#8a22dc"/><path d="M194.2 439.4l3.5 -6.1h-7z" fill="#8a22dc"/><path d="M199.5 446.0l3.5 -6.1h-7z" fill="#8a22dc"/><path d="M204.8 452.6l3.5 -6.1h-7z" fill="#8a22dc"/><path d="M210.1 459.3l3.5 -6.1h-7z" fill="#8a22dc"/><path d="M215.4 465.9l3.5 -6.1h-7z" fill="#8a22dc"/><path d="M220.7 472.3l3.5 -6.1h-7z" fill="#8a22dc"/><path d="M226.0 478.7l3.5 -6.1h-7z" fill="#8a22dc"/><path d="M231.3 485.2l3.5 -6.1h-7z" fill="#8a22dc"/><path d="M236.5 492.0l3.5 -6.1h-7z" fill="#8a22dc"/><path d="M241.8 498.6l3.5 -6.1h-7z" fill="#8a22dc"/></g>
<path d="M101.3 495.0 L106.6 478.0 L111.9 452.6 L117.2 425.2 L122.5 398.2 L127.8 370.2 L133.0 347.3 L138.3 329.5 L143.6 319.0 L148.9 315.0 L154.2 317.1 L159.5 321.9 L164.8 332.1 L170.1 341.7 L175.4 351.6 L180.7 360.6 L185.9 371.9 L191.2 385.1 L196.5 398.1 L201.8 408.5 L207.1 417.2 L212.4 429.1 L217.7 442.1 L223.0 453.9 L228.3 465.4 L233.6 476.8 L238.8 488.2" fill="none" stroke="#90d97f" stroke-width="0.65" stroke-linejoin="round" stroke-linecap="round" />
<g><path d="M101.3 491.1l3.6 3.9l-3.6 3.9l-3.6 -3.9z" fill="#22b400"/><path d="M106.6 474.1l3.6 3.9l-3.6 3.9l-3.6 -3.9z" fill="#22b400"/><path d="M111.9 448.7l3.6 3.9l-3.6 3.9l-3.6 -3.9z" fill="#22b400"/><path d="M117.2 421.3l3.6 3.9l-3.6 3.9l-3.6 -3.9z" fill="#22b400"/><path d="M122.5 394.3l3.6 3.9l-3.6 3.9l-3.6 -3.9z" fill="#22b400"/><path d="M127.8 366.3l3.6 3.9l-3.6 3.9l-3.6 -3.9z" fill="#22b400"/><path d="M133.0 343.4l3.6 3.9l-3.6 3.9l-3.6 -3.9z" fill="#22b400"/><path d="M138.3 325.6l3.6 3.9l-3.6 3.9l-3.6 -3.9z" fill="#22b400"/><path d="M143.6 315.1l3.6 3.9l-3.6 3.9l-3.6 -3.9z" fill="#22b400"/><path d="M148.9 311.1l3.6 3.9l-3.6 3.9l-3.6 -3.9z" fill="#22b400"/><path d="M154.2 313.2l3.6 3.9l-3.6 3.9l-3.6 -3.9z" fill="#22b400"/><path d="M159.5 318.0l3.6 3.9l-3.6 3.9l-3.6 -3.9z" fill="#22b400"/><path d="M164.8 328.2l3.6 3.9l-3.6 3.9l-3.6 -3.9z" fill="#22b400"/><path d="M170.1 337.8l3.6 3.9l-3.6 3.9l-3.6 -3.9z" fill="#22b400"/><path d="M175.4 347.7l3.6 3.9l-3.6 3.9l-3.6 -3.9z" fill="#22b400"/><path d="M180.7 356.7l3.6 3.9l-3.6 3.9l-3.6 -3.9z" fill="#22b400"/><path d="M185.9 368.0l3.6 3.9l-3.6 3.9l-3.6 -3.9z" fill="#22b400"/><path d="M191.2 381.2l3.6 3.9l-3.6 3.9l-3.6 -3.9z" fill="#22b400"/><path d="M196.5 394.2l3.6 3.9l-3.6 3.9l-3.6 -3.9z" fill="#22b400"/><path d="M201.8 404.6l3.6 3.9l-3.6 3.9l-3.6 -3.9z" fill="#22b400"/><path d="M207.1 413.3l3.6 3.9l-3.6 3.9l-3.6 -3.9z" fill="#22b400"/><path d="M212.4 425.2l3.6 3.9l-3.6 3.9l-3.6 -3.9z" fill="#22b400"/><path d="M217.7 438.2l3.6 3.9l-3.6 3.9l-3.6 -3.9z" fill="#22b400"/><path d="M223.0 450.0l3.6 3.9l-3.6 3.9l-3.6 -3.9z" fill="#22b400"/><path d="M228.3 461.5l3.6 3.9l-3.6 3.9l-3.6 -3.9z" fill="#22b400"/><path d="M233.6 472.9l3.6 3.9l-3.6 3.9l-3.6 -3.9z" fill="#22b400"/><path d="M238.8 484.3l3.6 3.9l-3.6 3.9l-3.6 -3.9z" fill="#22b400"/></g>
<path d="M100.8 495.0 L106.1 469.5 L111.4 435.5 L116.7 399.6 L122.0 369.2 L127.3 346.5 L132.5 329.9 L137.8 321.0 L143.1 322.0 L148.4 325.7 L153.7 333.0 L159.0 342.0 L164.3 352.6 L169.6 362.3 L174.9 371.5 L180.2 381.1 L185.4 390.7 L190.7 400.3 L196.0 409.8 L201.3 419.4 L206.6 428.9 L211.9 438.4 L217.2 447.9 L222.5 457.5 L227.8 467.2 L233.1 477.5 L238.3 488.3" fill="none" stroke="#8989cf" stroke-width="0.65" stroke-linejoin="round" stroke-linecap="round" />
<g><path d="M97.0 495.0l6.2 -3.6v7.2z" fill="#1414a0"/><path d="M102.3 469.5l6.2 -3.6v7.2z" fill="#1414a0"/><path d="M107.6 435.5l6.2 -3.6v7.2z" fill="#1414a0"/><path d="M112.9 399.6l6.2 -3.6v7.2z" fill="#1414a0"/><path d="M118.2 369.2l6.2 -3.6v7.2z" fill="#1414a0"/><path d="M123.5 346.5l6.2 -3.6v7.2z" fill="#1414a0"/><path d="M128.7 329.9l6.2 -3.6v7.2z" fill="#1414a0"/><path d="M134.0 321.0l6.2 -3.6v7.2z" fill="#1414a0"/><path d="M139.3 322.0l6.2 -3.6v7.2z" fill="#1414a0"/><path d="M144.6 325.7l6.2 -3.6v7.2z" fill="#1414a0"/><path d="M149.9 333.0l6.2 -3.6v7.2z" fill="#1414a0"/><path d="M155.2 342.0l6.2 -3.6v7.2z" fill="#1414a0"/><path d="M160.5 352.6l6.2 -3.6v7.2z" fill="#1414a0"/><path d="M165.8 362.3l6.2 -3.6v7.2z" fill="#1414a0"/><path d="M171.1 371.5l6.2 -3.6v7.2z" fill="#1414a0"/><path d="M176.4 381.1l6.2 -3.6v7.2z" fill="#1414a0"/><path d="M181.6 390.7l6.2 -3.6v7.2z" fill="#1414a0"/><path d="M186.9 400.3l6.2 -3.6v7.2z" fill="#1414a0"/><path d="M192.2 409.8l6.2 -3.6v7.2z" fill="#1414a0"/><path d="M197.5 419.4l6.2 -3.6v7.2z" fill="#1414a0"/><path d="M202.8 428.9l6.2 -3.6v7.2z" fill="#1414a0"/><path d="M208.1 438.4l6.2 -3.6v7.2z" fill="#1414a0"/><path d="M213.4 447.9l6.2 -3.6v7.2z" fill="#1414a0"/><path d="M218.7 457.5l6.2 -3.6v7.2z" fill="#1414a0"/><path d="M224.0 467.2l6.2 -3.6v7.2z" fill="#1414a0"/><path d="M229.3 477.5l6.2 -3.6v7.2z" fill="#1414a0"/><path d="M234.5 488.3l6.2 -3.6v7.2z" fill="#1414a0"/></g>
<path d="M98.2 495.0 L103.5 470.0 L108.8 446.1 L114.1 419.7 L119.4 395.8 L124.7 378.3 L129.9 366.4 L135.2 360.4 L140.5 360.0 L145.8 361.9 L151.1 366.6 L156.4 372.0 L161.7 377.6 L167.0 383.4 L172.3 388.6 L177.6 394.8 L182.8 401.6 L188.1 408.7 L193.4 416.2 L198.7 424.1 L204.0 432.2 L209.3 440.7 L214.6 449.3 L219.9 457.7 L225.2 466.0 L230.5 474.8 L235.7 484.2 L241.0 494.1" fill="none" stroke="#8989cf" stroke-width="0.65" stroke-linejoin="round" stroke-linecap="round" />
<g><path d="M102.0 495.0l-6.2 -3.6v7.2z" fill="#1414a0"/><path d="M107.3 470.0l-6.2 -3.6v7.2z" fill="#1414a0"/><path d="M112.6 446.1l-6.2 -3.6v7.2z" fill="#1414a0"/><path d="M117.9 419.7l-6.2 -3.6v7.2z" fill="#1414a0"/><path d="M123.2 395.8l-6.2 -3.6v7.2z" fill="#1414a0"/><path d="M128.5 378.3l-6.2 -3.6v7.2z" fill="#1414a0"/><path d="M133.7 366.4l-6.2 -3.6v7.2z" fill="#1414a0"/><path d="M139.0 360.4l-6.2 -3.6v7.2z" fill="#1414a0"/><path d="M144.3 360.0l-6.2 -3.6v7.2z" fill="#1414a0"/><path d="M149.6 361.9l-6.2 -3.6v7.2z" fill="#1414a0"/><path d="M154.9 366.6l-6.2 -3.6v7.2z" fill="#1414a0"/><path d="M160.2 372.0l-6.2 -3.6v7.2z" fill="#1414a0"/><path d="M165.5 377.6l-6.2 -3.6v7.2z" fill="#1414a0"/><path d="M170.8 383.4l-6.2 -3.6v7.2z" fill="#1414a0"/><path d="M176.1 388.6l-6.2 -3.6v7.2z" fill="#1414a0"/><path d="M181.4 394.8l-6.2 -3.6v7.2z" fill="#1414a0"/><path d="M186.6 401.6l-6.2 -3.6v7.2z" fill="#1414a0"/><path d="M191.9 408.7l-6.2 -3.6v7.2z" fill="#1414a0"/><path d="M197.2 416.2l-6.2 -3.6v7.2z" fill="#1414a0"/><path d="M202.5 424.1l-6.2 -3.6v7.2z" fill="#1414a0"/><path d="M207.8 432.2l-6.2 -3.6v7.2z" fill="#1414a0"/><path d="M213.1 440.7l-6.2 -3.6v7.2z" fill="#1414a0"/><path d="M218.4 449.3l-6.2 -3.6v7.2z" fill="#1414a0"/><path d="M223.7 457.7l-6.2 -3.6v7.2z" fill="#1414a0"/><path d="M229.0 466.0l-6.2 -3.6v7.2z" fill="#1414a0"/><path d="M234.3 474.8l-6.2 -3.6v7.2z" fill="#1414a0"/><path d="M239.5 484.2l-6.2 -3.6v7.2z" fill="#1414a0"/><path d="M244.8 494.1l-6.2 -3.6v7.2z" fill="#1414a0"/></g>
<path d="M104.3 495.0 L109.6 474.1 L114.9 453.6 L120.2 439.7 L125.5 432.2 L130.8 429.3 L136.0 429.6 L141.3 432.3 L146.6 435.5 L151.9 438.4 L157.2 441.8 L162.5 444.4 L167.8 447.5 L173.1 450.6 L178.4 454.2 L183.7 457.1 L188.9 459.9 L194.2 462.7 L199.5 465.7 L204.8 469.0 L210.1 472.6 L215.4 476.3 L220.7 479.9 L226.0 483.6 L231.3 487.4 L236.6 491.3 L241.8 495.0" fill="none" stroke="#aa8be3" stroke-width="0.65" stroke-linejoin="round" stroke-linecap="round" />
<g><circle cx="104.3" cy="495.0" r="3.05" fill="#5518c8"/><circle cx="109.6" cy="474.1" r="3.05" fill="#5518c8"/><circle cx="114.9" cy="453.6" r="3.05" fill="#5518c8"/><circle cx="120.2" cy="439.7" r="3.05" fill="#5518c8"/><circle cx="125.5" cy="432.2" r="3.05" fill="#5518c8"/><circle cx="130.8" cy="429.3" r="3.05" fill="#5518c8"/><circle cx="136.0" cy="429.6" r="3.05" fill="#5518c8"/><circle cx="141.3" cy="432.3" r="3.05" fill="#5518c8"/><circle cx="146.6" cy="435.5" r="3.05" fill="#5518c8"/><circle cx="151.9" cy="438.4" r="3.05" fill="#5518c8"/><circle cx="157.2" cy="441.8" r="3.05" fill="#5518c8"/><circle cx="162.5" cy="444.4" r="3.05" fill="#5518c8"/><circle cx="167.8" cy="447.5" r="3.05" fill="#5518c8"/><circle cx="173.1" cy="450.6" r="3.05" fill="#5518c8"/><circle cx="178.4" cy="454.2" r="3.05" fill="#5518c8"/><circle cx="183.7" cy="457.1" r="3.05" fill="#5518c8"/><circle cx="188.9" cy="459.9" r="3.05" fill="#5518c8"/><circle cx="194.2" cy="462.7" r="3.05" fill="#5518c8"/><circle cx="199.5" cy="465.7" r="3.05" fill="#5518c8"/><circle cx="204.8" cy="469.0" r="3.05" fill="#5518c8"/><circle cx="210.1" cy="472.6" r="3.05" fill="#5518c8"/><circle cx="215.4" cy="476.3" r="3.05" fill="#5518c8"/><circle cx="220.7" cy="479.9" r="3.05" fill="#5518c8"/><circle cx="226.0" cy="483.6" r="3.05" fill="#5518c8"/><circle cx="231.3" cy="487.4" r="3.05" fill="#5518c8"/><circle cx="236.6" cy="491.3" r="3.05" fill="#5518c8"/><circle cx="241.8" cy="495.0" r="3.05" fill="#5518c8"/></g>
<path d="M161.6 314.5V323" stroke="#86d46a" stroke-width="0.6" fill="none"/>
</g>
<rect x="60.25" y="279.8" width="293.85" height="216.7" fill="none" stroke="#17171c" stroke-width="1.3"/>
<path d="M60.25 496.50h-4.3M60.25 474.83h-4.3M60.25 453.16h-4.3M60.25 431.49h-4.3M60.25 409.82h-4.3M60.25 388.15h-4.3M60.25 366.48h-4.3M60.25 344.81h-4.3M60.25 323.14h-4.3M60.25 301.47h-4.3M60.25 279.80h-4.3M60.25 485.67h-2.3M60.25 464.00h-2.3M60.25 442.32h-2.3M60.25 420.65h-2.3M60.25 398.99h-2.3M60.25 377.31h-2.3M60.25 355.64h-2.3M60.25 333.97h-2.3M60.25 312.30h-2.3M60.25 290.63h-2.3" stroke="#17171c" stroke-width="1.1" fill="none"/>
<text transform="translate(52.95 500.9) scale(1 1.08)" font-size="13.3" text-anchor="end" >0.0</text>
<text transform="translate(52.95 479.2) scale(1 1.08)" font-size="13.3" text-anchor="end" >0.1</text>
<text transform="translate(52.95 457.6) scale(1 1.08)" font-size="13.3" text-anchor="end" >0.2</text>
<text transform="translate(52.95 435.9) scale(1 1.08)" font-size="13.3" text-anchor="end" >0.3</text>
<text transform="translate(52.95 414.2) scale(1 1.08)" font-size="13.3" text-anchor="end" >0.4</text>
<text transform="translate(52.95 392.5) scale(1 1.08)" font-size="13.3" text-anchor="end" >0.5</text>
<text transform="translate(52.95 370.9) scale(1 1.08)" font-size="13.3" text-anchor="end" >0.6</text>
<text transform="translate(52.95 349.2) scale(1 1.08)" font-size="13.3" text-anchor="end" >0.7</text>
<text transform="translate(52.95 327.5) scale(1 1.08)" font-size="13.3" text-anchor="end" >0.8</text>
<text transform="translate(52.95 305.9) scale(1 1.08)" font-size="13.3" text-anchor="end" >0.9</text>
<text transform="translate(52.95 284.2) scale(1 1.08)" font-size="13.3" text-anchor="end" >1.0</text>
<path d="M60.75 496.5v4.3M90.09 496.5v4.3M119.43 496.5v4.3M148.77 496.5v4.3M178.11 496.5v4.3M207.45 496.5v4.3M236.79 496.5v4.3M266.13 496.5v4.3M295.47 496.5v4.3M324.81 496.5v4.3M354.15 496.5v4.3M75.42 496.5v2.3M104.76 496.5v2.3M134.10 496.5v2.3M163.44 496.5v2.3M192.78 496.5v2.3M222.12 496.5v2.3M251.46 496.5v2.3M280.80 496.5v2.3M310.14 496.5v2.3M339.48 496.5v2.3" stroke="#17171c" stroke-width="1.1" fill="none"/>
<text transform="translate(60.8 514.3) scale(1 1.08)" font-size="13.3" text-anchor="middle" >0.0</text>
<text transform="translate(90.1 514.3) scale(1 1.08)" font-size="13.3" text-anchor="middle" >0.2</text>
<text transform="translate(119.4 514.3) scale(1 1.08)" font-size="13.3" text-anchor="middle" >0.4</text>
<text transform="translate(148.8 514.3) scale(1 1.08)" font-size="13.3" text-anchor="middle" >0.6</text>
<text transform="translate(178.1 514.3) scale(1 1.08)" font-size="13.3" text-anchor="middle" >0.8</text>
<text transform="translate(207.4 514.3) scale(1 1.08)" font-size="13.3" text-anchor="middle" >1.0</text>
<text transform="translate(236.8 514.3) scale(1 1.08)" font-size="13.3" text-anchor="middle" >1.2</text>
<text transform="translate(266.1 514.3) scale(1 1.08)" font-size="13.3" text-anchor="middle" >1.4</text>
<text transform="translate(295.5 514.3) scale(1 1.08)" font-size="13.3" text-anchor="middle" >1.6</text>
<text transform="translate(324.8 514.3) scale(1 1.08)" font-size="13.3" text-anchor="middle" >1.8</text>
<text transform="translate(354.1 514.3) scale(1 1.08)" font-size="13.3" text-anchor="middle" >2.0</text>
<text transform="translate(207.6 537.6) scale(1 1.05)" font-size="15" text-anchor="middle" >Potential / V vs RHE</text>
<text transform="translate(28.2 487.6) rotate(-90) scale(1 1.07)" font-size="14.35" text-anchor="start">Photoconversion efficiency / %</text>
<rect x="63.7" y="284.6" width="23.6" height="27" fill="#000"/>
<text x="76.5" y="310.1" font-size="34" fill="#fff" class="w" text-anchor="middle">b</text>
<path d="M232 311.9H257.5" stroke="#9d9d9d" stroke-width="0.85"/>
<rect x="242.1" y="309.3" width="5.2" height="5.2" fill="#0a0a0a"/>
<text transform="translate(261.8 316.7) scale(1 1.08)" font-size="14.7" text-anchor="start" >one-step</text>
<path d="M232 330.6H257.5" stroke="#f8a1a6" stroke-width="0.85"/>
<circle cx="244.7" cy="330.6" r="3.05" fill="#ee1622"/>
<text transform="translate(261.8 335.4) scale(1 1.08)" font-size="14.7" text-anchor="start" >S60-20</text>
<path d="M232 349.4H257.5" stroke="#a1a1d9" stroke-width="0.85"/>
<path d="M244.7 345.8l3.5 6.1h-7z" fill="#1414a0"/>
<text transform="translate(261.8 354.2) scale(1 1.08)" font-size="14.7" text-anchor="start" >S60-40</text>
<path d="M232 368.1H257.5" stroke="#d0a6f1" stroke-width="0.85"/>
<path d="M244.7 371.8l3.5 -6.1h-7z" fill="#8a22dc"/>
<text transform="translate(261.8 372.9) scale(1 1.08)" font-size="14.7" text-anchor="start" >S60-60</text>
<path d="M232 386.9H257.5" stroke="#a6e199" stroke-width="0.85"/>
<path d="M244.7 383.0l3.6 3.9l-3.6 3.9l-3.6 -3.9z" fill="#22b400"/>
<text transform="translate(261.8 391.7) scale(1 1.08)" font-size="14.7" text-anchor="start" >S60-80</text>
<path d="M232 405.6H257.5" stroke="#a1a1d9" stroke-width="0.85"/>
<path d="M240.9 405.6l6.2 -3.6v7.2z" fill="#1414a0"/>
<text transform="translate(261.8 410.4) scale(1 1.08)" font-size="14.7" text-anchor="start" >S60-100</text>
<path d="M232 424.4H257.5" stroke="#a1a1d9" stroke-width="0.85"/>
<path d="M248.5 424.4l-6.2 -3.6v7.2z" fill="#1414a0"/>
<text transform="translate(261.8 429.2) scale(1 1.08)" font-size="14.7" text-anchor="start" >S80-80</text>
<path d="M232 443.1H257.5" stroke="#bba2e9" stroke-width="0.85"/>
<circle cx="244.7" cy="443.1" r="3.05" fill="#5518c8"/>
<text transform="translate(261.8 447.9) scale(1 1.08)" font-size="14.7" text-anchor="start" >S100-80</text>
<rect x="60.25" y="554.4" width="293.6" height="216.70000000000005" fill="#fff" stroke="none"/>
<clipPath id="cc"><rect x="60.25" y="554.4" width="293.6" height="216.70000000000005"/></clipPath>
<g clip-path="url(#cc)">
<path d="M94.0 710.3 L94.5 710.6 L94.9 710.7 L95.4 710.6 L95.9 710.3 L96.3 710.3 L96.8 710.3 L97.2 710.5 L97.7 711.0 L98.1 711.4 L98.6 711.3 L99.1 711.4 L99.5 711.2 L100.0 711.1 L100.4 711.0 L100.9 711.2 L101.4 711.0 L101.8 711.2 L102.3 711.2 L102.7 711.3 L103.2 711.4 L103.7 711.7 L104.1 711.7 L104.6 711.8 L105.0 711.9 L105.5 711.9 L105.9 712.0 L106.4 712.0 L106.9 712.0 L107.3 712.2 L107.8 711.9 L108.2 711.7 L108.7 711.6 L109.2 711.5 L109.6 711.6 L110.1 711.5 L110.5 711.7 L111.0 711.8 L111.4 711.8 L111.9 711.7 L112.4 712.0 L112.8 712.0 L113.3 712.1 L113.7 712.3 L114.2 712.2 L114.7 712.3 L115.1 712.1 L115.6 712.0 L116.0 712.1 L116.5 712.3 L117.0 712.3 L117.4 712.6 L117.9 712.7 L118.3 712.7 L118.8 712.7 L119.2 712.7 L119.7 712.4 L120.2 712.5 L120.6 712.5 L121.1 712.5 L121.5 712.3 L122.0 712.5 L122.5 712.6 L122.9 712.8 L123.4 712.7 L123.8 712.9 L124.3 712.8 L124.7 712.8 L125.2 712.4 L125.7 712.4M159.2 710.4 L159.6 710.8 L160.1 710.7 L160.5 711.2 L161.0 711.4 L161.4 711.6 L161.9 711.6 L162.4 711.7 L162.8 711.3 L163.3 711.5 L163.7 711.7 L164.2 711.9 L164.7 711.9 L165.1 712.4 L165.6 712.5 L166.0 712.4 L166.5 712.1 L167.0 712.0 L167.4 712.1 L167.9 712.1 L168.3 711.9 L168.8 712.2 L169.2 712.4 L169.7 712.3 L170.2 712.4 L170.6 712.5 L171.1 712.2 L171.5 712.0 L172.0 711.9 L172.5 712.0 L172.9 711.9 L173.4 712.5 L173.8 712.9 L174.3 712.8 L174.7 712.4 L175.2 712.7 L175.7 712.3 L176.1 712.3 L176.6 712.4 L177.0 712.8 L177.5 712.8 L178.0 712.8 L178.4 712.7 L178.9 712.6 L179.3 712.7 L179.8 712.7 L180.3 712.8 L180.7 712.7 L181.2 712.9 L181.6 712.7 L182.1 712.5 L182.5 712.6 L183.0 712.7 L183.5 712.7 L183.9 713.0 L184.4 713.0 L184.8 712.8 L185.3 712.9 L185.8 712.9 L186.2 712.8 L186.7 712.9 L187.1 712.8 L187.6 712.9 L188.0 712.8 L188.5 712.8 L189.0 712.8 L189.4 712.9 L189.9 712.9 L190.3 713.3 L190.8 713.3M224.3 710.4 L224.7 710.9 L225.2 710.9 L225.7 710.9 L226.1 711.1 L226.6 711.0 L227.0 711.0 L227.5 711.4 L228.0 711.5 L228.4 711.8 L228.9 712.1 L229.3 711.9 L229.8 711.4 L230.3 711.8 L230.7 711.7 L231.2 711.8 L231.6 711.9 L232.1 712.2 L232.5 711.9 L233.0 711.8 L233.5 711.9 L233.9 712.1 L234.4 711.8 L234.8 712.2 L235.3 712.4 L235.8 712.3 L236.2 712.2 L236.7 712.6 L237.1 712.5 L237.6 712.6 L238.0 712.6 L238.5 712.9 L239.0 712.5 L239.4 712.3 L239.9 712.1 L240.3 712.2 L240.8 712.1 L241.3 712.2 L241.7 712.3 L242.2 712.3 L242.6 712.3 L243.1 712.4 L243.6 712.4 L244.0 712.4 L244.5 712.6 L244.9 712.7 L245.4 712.4 L245.8 712.4 L246.3 712.6 L246.8 712.5 L247.2 712.6 L247.7 712.9 L248.1 713.2 L248.6 713.0 L249.1 713.1 L249.5 713.1 L250.0 713.1 L250.4 713.2 L250.9 713.4 L251.3 713.5 L251.8 713.6 L252.3 713.6 L252.7 713.6 L253.2 713.4 L253.6 713.3 L254.1 713.1 L254.6 713.1 L255.0 712.9 L255.5 712.9 L255.9 712.9M289.4 710.7 L289.9 710.5 L290.3 710.7 L290.8 710.8 L291.3 711.3 L291.7 711.4 L292.2 711.8 L292.6 711.9 L293.1 711.9 L293.5 711.7 L294.0 711.8 L294.5 712.2 L294.9 712.2 L295.4 712.2 L295.8 712.2 L296.3 712.3 L296.8 711.9 L297.2 711.9 L297.7 712.0 L298.1 711.8 L298.6 711.8 L299.1 712.1 L299.5 712.2 L300.0 712.1 L300.4 712.5 L300.9 712.4 L301.3 712.4 L301.8 712.6 L302.3 712.9 L302.7 713.1 L303.2 713.1 L303.6 713.0 L304.1 712.7 L304.6 712.7 L305.0 712.6 L305.5 712.9 L305.9 713.1 L306.4 713.1 L306.8 712.7 L307.3 712.7 L307.8 712.6 L308.2 712.3 L308.7 712.5 L309.1 712.8 L309.6 712.7 L310.1 712.7 L310.5 712.8 L311.0 712.7 L311.4 713.0 L311.9 712.9 L312.4 712.8 L312.8 713.0 L313.3 713.1 L313.7 712.9 L314.2 713.1 L314.6 713.1 L315.1 712.9 L315.6 712.8 L316.0 712.8 L316.5 712.9 L316.9 712.9 L317.4 712.9 L317.9 712.7 L318.3 712.8 L318.8 712.5 L319.2 712.7 L319.7 712.9 L320.1 713.3 L320.6 713.4 L321.1 713.4" fill="none" stroke="#0a0a0a" stroke-width="1.9" stroke-linejoin="round"/>
<path d="M94.0 698.8 L94.5 698.8 L94.9 698.9 L95.4 698.9 L95.9 698.8 L96.3 698.8 L96.8 698.7 L97.2 698.6 L97.7 698.9 L98.1 698.9 L98.6 699.2 L99.1 699.0 L99.5 698.8 L100.0 698.5 L100.4 698.8 L100.9 698.5 L101.4 698.6 L101.8 698.8 L102.3 698.7 L102.7 698.5 L103.2 698.7 L103.7 698.8 L104.1 698.7 L104.6 698.9 L105.0 699.2 L105.5 699.2 L105.9 699.2 L106.4 699.3 L106.9 699.3 L107.3 699.2 L107.8 698.9 L108.2 698.7 L108.7 698.9 L109.2 699.1 L109.6 698.9 L110.1 699.0 L110.5 699.2 L111.0 698.9 L111.4 699.0 L111.9 699.2 L112.4 699.4 L112.8 699.4 L113.3 699.6 L113.7 699.6 L114.2 699.9 L114.7 699.6 L115.1 699.6 L115.6 699.7 L116.0 699.5 L116.5 699.5 L117.0 699.7 L117.4 700.0 L117.9 699.6 L118.3 700.1 L118.8 700.0 L119.2 700.1 L119.7 699.8 L120.2 700.1 L120.6 699.7 L121.1 699.6 L121.5 699.2 L122.0 699.4 L122.5 699.5 L122.9 699.4 L123.4 699.5 L123.8 700.0 L124.3 699.8 L124.7 699.8 L125.2 700.2 L125.7 700.1M159.2 704.9 L159.6 704.3 L160.1 703.9 L160.5 703.6 L161.0 703.2 L161.4 703.2 L161.9 703.0 L162.4 703.1 L162.8 703.0 L163.3 702.7 L163.7 702.8 L164.2 702.8 L164.7 702.7 L165.1 702.6 L165.6 702.9 L166.0 702.8 L166.5 702.6 L167.0 702.6 L167.4 702.6 L167.9 702.2 L168.3 702.2 L168.8 702.2 L169.2 702.1 L169.7 702.1 L170.2 702.4 L170.6 702.3 L171.1 702.2 L171.5 702.2 L172.0 702.0 L172.5 702.1 L172.9 702.3 L173.4 702.5 L173.8 702.8 L174.3 702.8 L174.7 702.7 L175.2 702.4 L175.7 702.3 L176.1 702.1 L176.6 702.0 L177.0 702.0 L177.5 701.9 L178.0 701.9 L178.4 701.7 L178.9 701.6 L179.3 701.7 L179.8 702.1 L180.3 702.1 L180.7 702.2 L181.2 702.4 L181.6 702.2 L182.1 701.9 L182.5 702.1 L183.0 702.2 L183.5 702.3 L183.9 702.7 L184.4 702.8 L184.8 702.9 L185.3 703.0 L185.8 702.8 L186.2 703.0 L186.7 703.0 L187.1 702.8 L187.6 703.1 L188.0 703.2 L188.5 703.0 L189.0 703.2 L189.4 703.1 L189.9 702.7 L190.3 702.7 L190.8 702.6M224.3 705.1 L224.7 704.7 L225.2 704.4 L225.7 704.2 L226.1 703.9 L226.6 703.7 L227.0 703.7 L227.5 703.4 L228.0 703.2 L228.4 703.0 L228.9 702.9 L229.3 702.7 L229.8 702.8 L230.3 703.0 L230.7 703.0 L231.2 702.7 L231.6 702.7 L232.1 702.4 L232.5 702.0 L233.0 701.9 L233.5 702.0 L233.9 702.0 L234.4 702.1 L234.8 702.2 L235.3 702.2 L235.8 702.2 L236.2 702.5 L236.7 702.5 L237.1 702.5 L237.6 702.6 L238.0 702.7 L238.5 702.6 L239.0 702.8 L239.4 702.7 L239.9 702.6 L240.3 702.5 L240.8 702.3 L241.3 701.9 L241.7 701.9 L242.2 702.0 L242.6 701.9 L243.1 701.9 L243.6 702.1 L244.0 702.2 L244.5 702.1 L244.9 702.2 L245.4 702.3 L245.8 702.3 L246.3 702.2 L246.8 702.4 L247.2 702.5 L247.7 702.6 L248.1 702.5 L248.6 702.7 L249.1 702.5 L249.5 702.5 L250.0 702.3 L250.4 702.5 L250.9 702.5 L251.3 702.6 L251.8 702.5 L252.3 702.7 L252.7 702.5 L253.2 702.5 L253.6 702.4 L254.1 702.0 L254.6 702.0 L255.0 702.2 L255.5 702.4 L255.9 702.7M289.4 705.7 L289.9 705.2 L290.3 704.8 L290.8 704.4 L291.3 704.0 L291.7 703.5 L292.2 703.5 L292.6 703.3 L293.1 703.3 L293.5 703.2 L294.0 703.0 L294.5 702.7 L294.9 703.0 L295.4 702.9 L295.8 702.9 L296.3 703.0 L296.8 703.0 L297.2 702.6 L297.7 702.7 L298.1 702.7 L298.6 702.9 L299.1 702.7 L299.5 702.5 L300.0 702.4 L300.4 702.2 L300.9 701.8 L301.3 702.0 L301.8 702.1 L302.3 702.2 L302.7 702.5 L303.2 702.8 L303.6 702.9 L304.1 702.9 L304.6 702.8 L305.0 702.5 L305.5 702.5 L305.9 702.3 L306.4 702.5 L306.8 702.6 L307.3 702.5 L307.8 702.2 L308.2 702.2 L308.7 701.8 L309.1 701.7 L309.6 701.9 L310.1 702.1 L310.5 702.3 L311.0 702.6 L311.4 702.8 L311.9 702.9 L312.4 703.0 L312.8 703.1 L313.3 702.8 L313.7 702.6 L314.2 702.8 L314.6 702.6 L315.1 702.5 L315.6 703.1 L316.0 703.3 L316.5 703.0 L316.9 703.0 L317.4 702.8 L317.9 702.6 L318.3 702.6 L318.8 702.5 L319.2 702.5 L319.7 702.6 L320.1 702.5 L320.6 702.4 L321.1 702.6" fill="none" stroke="#16b016" stroke-width="1.9" stroke-linejoin="round"/>
<path d="M94.0 681.2 L94.5 681.2 L94.9 681.0 L95.4 681.0 L95.9 680.9 L96.3 680.7 L96.8 680.4 L97.2 680.2 L97.7 679.8 L98.1 679.9 L98.6 679.8 L99.1 679.7 L99.5 679.7 L100.0 680.2 L100.4 680.0 L100.9 680.0 L101.4 680.2 L101.8 680.3 L102.3 680.0 L102.7 679.9 L103.2 679.8 L103.7 679.7 L104.1 679.5 L104.6 679.3 L105.0 679.5 L105.5 679.8 L105.9 679.9 L106.4 680.0 L106.9 680.1 L107.3 679.8 L107.8 679.6 L108.2 679.5 L108.7 679.8 L109.2 679.8 L109.6 679.7 L110.1 679.9 L110.5 680.0 L111.0 679.9 L111.4 679.6 L111.9 680.0 L112.4 680.0 L112.8 680.0 L113.3 680.0 L113.7 680.2 L114.2 680.1 L114.7 679.6 L115.1 679.3 L115.6 679.2 L116.0 679.3 L116.5 679.5 L117.0 679.8 L117.4 679.8 L117.9 679.8 L118.3 679.8 L118.8 679.7 L119.2 679.8 L119.7 680.0 L120.2 680.1 L120.6 680.1 L121.1 680.2 L121.5 680.1 L122.0 680.1 L122.5 680.1 L122.9 679.9 L123.4 679.9 L123.8 679.9 L124.3 680.0 L124.7 679.8 L125.2 680.0 L125.7 680.2M159.2 686.1 L159.6 685.2 L160.1 684.5 L160.5 683.7 L161.0 683.4 L161.4 682.7 L161.9 682.2 L162.4 682.1 L162.8 682.1 L163.3 682.1 L163.7 682.1 L164.2 682.0 L164.7 681.8 L165.1 681.6 L165.6 681.3 L166.0 681.2 L166.5 681.2 L167.0 681.2 L167.4 681.4 L167.9 681.5 L168.3 681.4 L168.8 681.3 L169.2 681.3 L169.7 681.2 L170.2 681.3 L170.6 681.4 L171.1 681.5 L171.5 681.5 L172.0 681.4 L172.5 681.1 L172.9 680.9 L173.4 681.0 L173.8 681.0 L174.3 681.1 L174.7 681.0 L175.2 681.1 L175.7 681.0 L176.1 680.9 L176.6 680.9 L177.0 680.9 L177.5 680.8 L178.0 681.0 L178.4 680.9 L178.9 680.8 L179.3 681.1 L179.8 681.0 L180.3 681.2 L180.7 681.3 L181.2 681.0 L181.6 680.9 L182.1 681.3 L182.5 680.7 L183.0 680.5 L183.5 680.7 L183.9 680.9 L184.4 680.7 L184.8 680.9 L185.3 681.2 L185.8 681.2 L186.2 681.0 L186.7 681.2 L187.1 681.2 L187.6 681.3 L188.0 681.2 L188.5 681.4 L189.0 681.3 L189.4 681.3 L189.9 681.2 L190.3 681.7 L190.8 681.5M224.3 685.5 L224.7 685.0 L225.2 684.5 L225.7 683.9 L226.1 683.6 L226.6 683.5 L227.0 683.1 L227.5 682.9 L228.0 682.9 L228.4 683.1 L228.9 682.8 L229.3 682.4 L229.8 682.1 L230.3 681.8 L230.7 681.2 L231.2 681.3 L231.6 681.4 L232.1 681.4 L232.5 681.5 L233.0 681.4 L233.5 681.3 L233.9 681.4 L234.4 681.3 L234.8 681.1 L235.3 681.1 L235.8 680.9 L236.2 680.9 L236.7 681.3 L237.1 681.6 L237.6 681.7 L238.0 681.9 L238.5 681.9 L239.0 681.8 L239.4 681.6 L239.9 681.6 L240.3 681.6 L240.8 681.7 L241.3 681.6 L241.7 681.5 L242.2 681.5 L242.6 681.4 L243.1 681.3 L243.6 681.3 L244.0 681.4 L244.5 681.5 L244.9 681.5 L245.4 681.7 L245.8 681.7 L246.3 681.2 L246.8 681.0 L247.2 681.0 L247.7 680.8 L248.1 680.8 L248.6 681.0 L249.1 680.9 L249.5 681.1 L250.0 680.9 L250.4 681.1 L250.9 681.2 L251.3 681.5 L251.8 681.7 L252.3 682.2 L252.7 681.8 L253.2 681.7 L253.6 681.7 L254.1 681.6 L254.6 681.2 L255.0 681.6 L255.5 681.8 L255.9 681.4M289.4 686.9 L289.9 686.4 L290.3 686.0 L290.8 685.2 L291.3 684.7 L291.7 684.2 L292.2 683.8 L292.6 683.4 L293.1 683.3 L293.5 682.9 L294.0 682.6 L294.5 682.7 L294.9 682.4 L295.4 682.3 L295.8 682.3 L296.3 682.2 L296.8 681.9 L297.2 682.1 L297.7 681.9 L298.1 682.0 L298.6 682.2 L299.1 682.0 L299.5 681.9 L300.0 682.0 L300.4 681.7 L300.9 681.7 L301.3 682.0 L301.8 681.9 L302.3 681.8 L302.7 682.0 L303.2 681.6 L303.6 681.5 L304.1 681.3 L304.6 681.2 L305.0 681.0 L305.5 681.3 L305.9 681.3 L306.4 681.5 L306.8 681.5 L307.3 681.6 L307.8 681.4 L308.2 681.6 L308.7 681.4 L309.1 681.4 L309.6 681.6 L310.1 681.9 L310.5 681.7 L311.0 682.1 L311.4 682.0 L311.9 682.1 L312.4 682.0 L312.8 682.1 L313.3 681.8 L313.7 682.1 L314.2 681.9 L314.6 681.8 L315.1 681.6 L315.6 681.7 L316.0 681.5 L316.5 681.9 L316.9 682.0 L317.4 682.0 L317.9 682.1 L318.3 682.2 L318.8 682.0 L319.2 681.8 L319.7 682.3 L320.1 682.0 L320.6 681.9 L321.1 681.8" fill="none" stroke="#8a28e0" stroke-width="1.9" stroke-linejoin="round"/>
<path d="M94.0 655.9 L94.5 655.7 L94.9 655.2 L95.4 655.0 L95.9 654.8 L96.3 654.4 L96.8 654.3 L97.2 654.3 L97.7 654.1 L98.1 654.0 L98.6 653.8 L99.1 653.5 L99.5 653.0 L100.0 652.8 L100.4 652.7 L100.9 652.6 L101.4 652.8 L101.8 652.9 L102.3 653.0 L102.7 652.7 L103.2 652.9 L103.7 652.6 L104.1 652.8 L104.6 652.6 L105.0 652.7 L105.5 652.7 L105.9 652.4 L106.4 652.2 L106.9 652.5 L107.3 652.7 L107.8 652.8 L108.2 653.3 L108.7 653.3 L109.2 653.4 L109.6 653.2 L110.1 653.2 L110.5 653.0 L111.0 652.7 L111.4 652.4 L111.9 652.5 L112.4 652.1 L112.8 652.1 L113.3 652.2 L113.7 652.3 L114.2 652.3 L114.7 652.4 L115.1 652.4 L115.6 652.5 L116.0 652.4 L116.5 652.3 L117.0 652.2 L117.4 652.2 L117.9 652.2 L118.3 652.1 L118.8 652.1 L119.2 652.3 L119.7 652.6 L120.2 652.5 L120.6 652.4 L121.1 652.4 L121.5 652.4 L122.0 651.9 L122.5 652.0 L122.9 652.0 L123.4 652.2 L123.8 651.9 L124.3 652.0 L124.7 651.9 L125.2 651.9 L125.7 651.9M159.2 659.2 L159.6 658.8 L160.1 658.1 L160.5 657.7 L161.0 657.4 L161.4 657.1 L161.9 656.7 L162.4 656.3 L162.8 656.2 L163.3 656.1 L163.7 656.2 L164.2 656.0 L164.7 656.2 L165.1 656.0 L165.6 655.8 L166.0 655.6 L166.5 655.4 L167.0 655.3 L167.4 655.3 L167.9 655.5 L168.3 655.3 L168.8 655.3 L169.2 655.3 L169.7 655.3 L170.2 655.3 L170.6 655.3 L171.1 655.6 L171.5 655.4 L172.0 655.3 L172.5 654.9 L172.9 655.0 L173.4 655.0 L173.8 655.1 L174.3 655.1 L174.7 655.0 L175.2 654.8 L175.7 654.4 L176.1 654.3 L176.6 654.2 L177.0 654.7 L177.5 654.7 L178.0 654.8 L178.4 654.9 L178.9 654.8 L179.3 654.5 L179.8 654.6 L180.3 654.7 L180.7 654.8 L181.2 654.8 L181.6 654.7 L182.1 654.8 L182.5 654.8 L183.0 654.7 L183.5 654.5 L183.9 654.7 L184.4 654.5 L184.8 654.3 L185.3 654.3 L185.8 654.7 L186.2 654.7 L186.7 654.8 L187.1 655.2 L187.6 655.4 L188.0 655.3 L188.5 655.6 L189.0 655.1 L189.4 654.9 L189.9 654.7 L190.3 654.5 L190.8 653.9M224.3 661.5 L224.7 661.1 L225.2 660.1 L225.7 659.3 L226.1 658.7 L226.6 658.4 L227.0 658.2 L227.5 658.1 L228.0 658.1 L228.4 657.9 L228.9 657.6 L229.3 657.4 L229.8 657.3 L230.3 657.2 L230.7 657.0 L231.2 657.0 L231.6 656.7 L232.1 656.5 L232.5 656.1 L233.0 656.0 L233.5 656.0 L233.9 656.2 L234.4 656.3 L234.8 656.7 L235.3 657.2 L235.8 656.9 L236.2 656.6 L236.7 656.5 L237.1 656.3 L237.6 655.8 L238.0 656.0 L238.5 656.0 L239.0 655.9 L239.4 656.0 L239.9 656.1 L240.3 656.3 L240.8 656.1 L241.3 656.4 L241.7 656.4 L242.2 656.7 L242.6 656.5 L243.1 656.5 L243.6 656.4 L244.0 656.4 L244.5 656.4 L244.9 656.0 L245.4 656.3 L245.8 656.6 L246.3 656.4 L246.8 656.0 L247.2 656.2 L247.7 656.1 L248.1 656.0 L248.6 655.9 L249.1 656.1 L249.5 656.3 L250.0 656.2 L250.4 656.0 L250.9 656.2 L251.3 656.1 L251.8 656.1 L252.3 656.1 L252.7 656.4 L253.2 656.4 L253.6 656.3 L254.1 656.4 L254.6 656.1 L255.0 655.8 L255.5 655.5 L255.9 655.6M289.4 661.8 L289.9 661.1 L290.3 660.6 L290.8 660.1 L291.3 659.7 L291.7 659.1 L292.2 658.9 L292.6 658.8 L293.1 658.4 L293.5 658.5 L294.0 658.4 L294.5 658.3 L294.9 658.0 L295.4 658.2 L295.8 658.0 L296.3 657.7 L296.8 657.3 L297.2 657.3 L297.7 657.1 L298.1 657.3 L298.6 657.4 L299.1 657.5 L299.5 657.5 L300.0 657.5 L300.4 657.2 L300.9 657.3 L301.3 657.4 L301.8 657.1 L302.3 656.9 L302.7 656.8 L303.2 656.5 L303.6 656.4 L304.1 656.5 L304.6 656.6 L305.0 656.8 L305.5 656.8 L305.9 657.0 L306.4 657.1 L306.8 657.2 L307.3 657.2 L307.8 657.6 L308.2 657.5 L308.7 657.4 L309.1 657.1 L309.6 657.2 L310.1 657.0 L310.5 657.0 L311.0 657.1 L311.4 657.3 L311.9 657.0 L312.4 657.1 L312.8 657.0 L313.3 656.6 L313.7 656.6 L314.2 656.6 L314.6 656.7 L315.1 656.5 L315.6 656.9 L316.0 656.9 L316.5 657.1 L316.9 656.9 L317.4 657.2 L317.9 657.3 L318.3 657.5 L318.8 657.4 L319.2 657.4 L319.7 657.2 L320.1 656.8 L320.6 656.3 L321.1 656.3" fill="none" stroke="#f01428" stroke-width="1.9" stroke-linejoin="round"/>
<path d="M94.0 637.0 L94.5 637.6 L94.9 637.8 L95.4 638.4 L95.9 639.0 L96.3 639.2 L96.8 639.6 L97.2 640.1 L97.7 640.4 L98.1 640.6 L98.6 640.8 L99.1 641.2 L99.5 641.1 L100.0 641.4 L100.4 641.5 L100.9 641.7 L101.4 641.7 L101.8 641.8 L102.3 641.7 L102.7 641.7 L103.2 641.4 L103.7 641.3 L104.1 641.4 L104.6 641.7 L105.0 642.0 L105.5 642.2 L105.9 642.2 L106.4 642.1 L106.9 641.9 L107.3 641.8 L107.8 641.6 L108.2 641.7 L108.7 641.8 L109.2 641.9 L109.6 641.9 L110.1 642.0 L110.5 642.2 L111.0 642.3 L111.4 642.4 L111.9 642.2 L112.4 642.0 L112.8 641.9 L113.3 642.0 L113.7 641.9 L114.2 642.3 L114.7 642.3 L115.1 642.3 L115.6 642.2 L116.0 642.1 L116.5 641.7 L117.0 641.9 L117.4 641.8 L117.9 641.9 L118.3 642.2 L118.8 642.5 L119.2 642.7 L119.7 642.7 L120.2 642.2 L120.6 642.3 L121.1 642.3 L121.5 641.9 L122.0 642.1 L122.5 642.4 L122.9 642.4 L123.4 642.2 L123.8 642.5 L124.3 642.4 L124.7 642.3 L125.2 642.2 L125.7 642.3M159.2 636.8 L159.6 637.7 L160.1 638.1 L160.5 638.8 L161.0 639.2 L161.4 639.4 L161.9 639.6 L162.4 640.2 L162.8 640.4 L163.3 640.8 L163.7 641.2 L164.2 641.3 L164.7 641.2 L165.1 641.5 L165.6 641.3 L166.0 641.5 L166.5 641.7 L167.0 642.0 L167.4 641.9 L167.9 641.8 L168.3 641.7 L168.8 641.8 L169.2 641.7 L169.7 641.7 L170.2 642.0 L170.6 642.1 L171.1 642.2 L171.5 642.1 L172.0 642.2 L172.5 642.1 L172.9 642.1 L173.4 642.3 L173.8 642.5 L174.3 642.5 L174.7 642.6 L175.2 642.7 L175.7 642.5 L176.1 642.4 L176.6 642.5 L177.0 642.4 L177.5 642.5 L178.0 642.5 L178.4 642.1 L178.9 642.2 L179.3 642.1 L179.8 642.0 L180.3 642.1 L180.7 642.4 L181.2 642.4 L181.6 642.6 L182.1 642.5 L182.5 642.4 L183.0 642.6 L183.5 642.8 L183.9 642.7 L184.4 642.7 L184.8 642.7 L185.3 642.9 L185.8 642.9 L186.2 642.8 L186.7 643.1 L187.1 643.2 L187.6 642.9 L188.0 642.8 L188.5 642.9 L189.0 642.8 L189.4 642.5 L189.9 642.5 L190.3 642.5 L190.8 642.7M224.3 636.2 L224.7 636.8 L225.2 637.6 L225.7 638.1 L226.1 638.4 L226.6 638.8 L227.0 639.1 L227.5 639.2 L228.0 639.4 L228.4 639.9 L228.9 640.3 L229.3 640.3 L229.8 640.6 L230.3 640.8 L230.7 641.0 L231.2 641.1 L231.6 641.5 L232.1 641.6 L232.5 641.9 L233.0 641.8 L233.5 642.1 L233.9 641.9 L234.4 642.2 L234.8 642.6 L235.3 642.8 L235.8 642.5 L236.2 642.5 L236.7 642.8 L237.1 642.6 L237.6 642.5 L238.0 642.8 L238.5 643.0 L239.0 642.8 L239.4 642.6 L239.9 642.9 L240.3 642.7 L240.8 642.8 L241.3 642.6 L241.7 642.7 L242.2 642.3 L242.6 642.3 L243.1 641.9 L243.6 642.2 L244.0 642.2 L244.5 642.2 L244.9 642.3 L245.4 642.9 L245.8 642.6 L246.3 642.6 L246.8 642.4 L247.2 642.4 L247.7 642.0 L248.1 642.2 L248.6 642.0 L249.1 642.7 L249.5 642.9 L250.0 643.0 L250.4 643.1 L250.9 643.1 L251.3 642.7 L251.8 642.3 L252.3 642.5 L252.7 642.4 L253.2 642.4 L253.6 642.5 L254.1 642.6 L254.6 642.3 L255.0 642.3 L255.5 642.4 L255.9 642.2M289.4 635.9 L289.9 636.7 L290.3 637.4 L290.8 638.0 L291.3 638.4 L291.7 639.2 L292.2 639.0 L292.6 638.9 L293.1 639.4 L293.5 639.8 L294.0 639.8 L294.5 640.3 L294.9 641.1 L295.4 640.8 L295.8 641.1 L296.3 641.1 L296.8 641.1 L297.2 641.0 L297.7 640.8 L298.1 640.6 L298.6 640.6 L299.1 640.7 L299.5 640.5 L300.0 640.8 L300.4 641.1 L300.9 641.6 L301.3 641.6 L301.8 642.0 L302.3 642.0 L302.7 642.1 L303.2 641.8 L303.6 641.9 L304.1 641.8 L304.6 642.1 L305.0 642.0 L305.5 641.8 L305.9 641.7 L306.4 641.6 L306.8 641.4 L307.3 641.5 L307.8 641.9 L308.2 642.1 L308.7 641.9 L309.1 642.0 L309.6 641.9 L310.1 641.7 L310.5 641.6 L311.0 641.6 L311.4 641.4 L311.9 641.6 L312.4 641.8 L312.8 641.7 L313.3 642.0 L313.7 642.1 L314.2 641.9 L314.6 641.8 L315.1 641.7 L315.6 641.7 L316.0 641.8 L316.5 642.0 L316.9 641.9 L317.4 642.0 L317.9 641.9 L318.3 641.8 L318.8 641.6 L319.2 641.8 L319.7 642.0 L320.1 641.7 L320.6 641.8 L321.1 641.8" fill="none" stroke="#150f9c" stroke-width="2.1" stroke-linejoin="round"/>
<path d="M94.0 630.1 L94.5 629.2 L94.9 628.7 L95.4 628.4 L95.9 627.9 L96.3 627.3 L96.8 627.0 L97.2 626.4 L97.7 626.2 L98.1 625.9 L98.6 625.7 L99.1 625.7 L99.5 625.4 L100.0 625.3 L100.4 625.5 L100.9 625.5 L101.4 625.0 L101.8 624.7 L102.3 624.8 L102.7 624.5 L103.2 624.2 L103.7 624.5 L104.1 624.7 L104.6 624.6 L105.0 624.7 L105.5 624.7 L105.9 624.6 L106.4 624.7 L106.9 624.6 L107.3 624.7 L107.8 625.0 L108.2 625.0 L108.7 625.0 L109.2 625.1 L109.6 624.6 L110.1 624.7 L110.5 624.8 L111.0 624.8 L111.4 624.6 L111.9 625.1 L112.4 624.8 L112.8 624.8 L113.3 624.8 L113.7 624.8 L114.2 624.5 L114.7 624.3 L115.1 624.4 L115.6 624.1 L116.0 624.0 L116.5 624.1 L117.0 624.2 L117.4 624.0 L117.9 624.1 L118.3 624.1 L118.8 623.9 L119.2 624.0 L119.7 624.0 L120.2 623.8 L120.6 624.1 L121.1 624.1 L121.5 624.0 L122.0 623.9 L122.5 624.0 L122.9 624.0 L123.4 624.2 L123.8 624.2 L124.3 624.5 L124.7 624.3 L125.2 624.2 L125.7 624.3M159.2 632.4 L159.6 631.5 L160.1 630.7 L160.5 629.9 L161.0 629.4 L161.4 628.7 L161.9 628.1 L162.4 627.9 L162.8 627.6 L163.3 627.0 L163.7 626.8 L164.2 626.8 L164.7 626.5 L165.1 626.4 L165.6 626.5 L166.0 626.3 L166.5 626.1 L167.0 626.2 L167.4 625.9 L167.9 626.0 L168.3 626.0 L168.8 625.9 L169.2 625.6 L169.7 625.6 L170.2 625.5 L170.6 625.2 L171.1 625.2 L171.5 625.2 L172.0 625.4 L172.5 625.3 L172.9 625.8 L173.4 625.7 L173.8 625.9 L174.3 625.8 L174.7 625.8 L175.2 625.4 L175.7 625.2 L176.1 625.0 L176.6 624.8 L177.0 624.9 L177.5 625.0 L178.0 624.8 L178.4 624.9 L178.9 625.1 L179.3 625.3 L179.8 625.4 L180.3 625.7 L180.7 625.7 L181.2 625.5 L181.6 625.2 L182.1 625.2 L182.5 625.2 L183.0 625.2 L183.5 625.6 L183.9 625.9 L184.4 626.0 L184.8 626.0 L185.3 625.8 L185.8 625.7 L186.2 625.4 L186.7 624.8 L187.1 624.8 L187.6 625.3 L188.0 625.1 L188.5 625.2 L189.0 625.6 L189.4 625.6 L189.9 625.3 L190.3 625.5 L190.8 625.5M224.3 633.0 L224.7 632.3 L225.2 631.6 L225.7 631.0 L226.1 630.2 L226.6 629.7 L227.0 629.1 L227.5 628.4 L228.0 628.1 L228.4 627.9 L228.9 627.7 L229.3 627.4 L229.8 627.6 L230.3 627.5 L230.7 627.5 L231.2 627.5 L231.6 627.4 L232.1 627.4 L232.5 627.0 L233.0 627.0 L233.5 626.5 L233.9 626.4 L234.4 626.0 L234.8 626.0 L235.3 626.0 L235.8 626.0 L236.2 626.0 L236.7 626.1 L237.1 626.4 L237.6 626.1 L238.0 626.6 L238.5 626.4 L239.0 626.3 L239.4 626.1 L239.9 626.1 L240.3 625.9 L240.8 626.2 L241.3 626.3 L241.7 626.2 L242.2 626.2 L242.6 626.1 L243.1 626.0 L243.6 625.8 L244.0 625.9 L244.5 625.7 L244.9 625.9 L245.4 626.1 L245.8 626.2 L246.3 626.3 L246.8 626.4 L247.2 626.2 L247.7 625.9 L248.1 625.8 L248.6 625.9 L249.1 625.8 L249.5 625.9 L250.0 626.0 L250.4 626.0 L250.9 626.0 L251.3 626.0 L251.8 626.2 L252.3 626.4 L252.7 626.4 L253.2 626.3 L253.6 626.2 L254.1 626.1 L254.6 626.1 L255.0 625.9 L255.5 625.7 L255.9 626.0M289.4 633.3 L289.9 632.6 L290.3 631.8 L290.8 631.1 L291.3 630.8 L291.7 630.3 L292.2 629.9 L292.6 629.7 L293.1 629.1 L293.5 628.7 L294.0 628.5 L294.5 628.5 L294.9 628.4 L295.4 628.3 L295.8 628.3 L296.3 628.5 L296.8 628.3 L297.2 628.2 L297.7 628.4 L298.1 628.5 L298.6 628.1 L299.1 628.1 L299.5 627.8 L300.0 627.8 L300.4 627.5 L300.9 627.7 L301.3 627.7 L301.8 628.1 L302.3 627.8 L302.7 627.8 L303.2 627.8 L303.6 627.9 L304.1 627.5 L304.6 627.9 L305.0 627.6 L305.5 627.7 L305.9 627.6 L306.4 627.9 L306.8 627.5 L307.3 627.9 L307.8 627.9 L308.2 628.0 L308.7 627.9 L309.1 628.0 L309.6 628.0 L310.1 627.8 L310.5 627.5 L311.0 627.4 L311.4 627.5 L311.9 627.5 L312.4 627.4 L312.8 627.5 L313.3 627.8 L313.7 628.0 L314.2 628.2 L314.6 628.3 L315.1 628.6 L315.6 628.5 L316.0 628.2 L316.5 628.0 L316.9 628.0 L317.4 627.9 L317.9 628.0 L318.3 628.0 L318.8 627.8 L319.2 628.0 L319.7 627.9 L320.1 627.8 L320.6 628.1 L321.1 628.2" fill="none" stroke="#150f9c" stroke-width="2.1" stroke-linejoin="round"/>
<path d="M94.0 595.2 L94.5 595.2 L94.9 595.3 L95.4 595.7 L95.9 595.7 L96.3 595.8 L96.8 595.8 L97.2 595.7 L97.7 595.7 L98.1 595.8 L98.6 596.0 L99.1 596.1 L99.5 596.2 L100.0 596.4 L100.4 596.6 L100.9 596.7 L101.4 596.9 L101.8 597.3 L102.3 597.5 L102.7 597.7 L103.2 597.9 L103.7 598.1 L104.1 597.8 L104.6 598.1 L105.0 597.9 L105.5 598.3 L105.9 598.4 L106.4 598.6 L106.9 598.6 L107.3 598.9 L107.8 598.8 L108.2 599.2 L108.7 599.5 L109.2 599.6 L109.6 599.6 L110.1 599.4 L110.5 599.3 L111.0 599.4 L111.4 600.0 L111.9 600.3 L112.4 600.7 L112.8 600.7 L113.3 600.6 L113.7 600.3 L114.2 600.3 L114.7 600.5 L115.1 600.8 L115.6 601.2 L116.0 601.6 L116.5 601.6 L117.0 601.8 L117.4 602.1 L117.9 602.4 L118.3 602.2 L118.8 602.3 L119.2 602.5 L119.7 602.4 L120.2 602.3 L120.6 602.8 L121.1 603.1 L121.5 603.5 L122.0 603.8 L122.5 604.0 L122.9 604.1 L123.4 604.2 L123.8 603.9 L124.3 603.8 L124.7 604.0 L125.2 604.2 L125.7 604.2M159.2 601.7 L159.6 602.3 L160.1 602.4 L160.5 602.6 L161.0 602.8 L161.4 603.0 L161.9 603.3 L162.4 603.4 L162.8 603.4 L163.3 603.6 L163.7 603.8 L164.2 603.6 L164.7 603.7 L165.1 604.1 L165.6 604.2 L166.0 604.7 L166.5 604.8 L167.0 605.1 L167.4 604.9 L167.9 605.3 L168.3 605.0 L168.8 605.1 L169.2 605.0 L169.7 605.0 L170.2 604.9 L170.6 605.1 L171.1 605.2 L171.5 605.3 L172.0 605.5 L172.5 605.8 L172.9 606.2 L173.4 606.5 L173.8 606.7 L174.3 607.0 L174.7 607.3 L175.2 607.0 L175.7 607.2 L176.1 607.3 L176.6 607.2 L177.0 607.2 L177.5 607.2 L178.0 607.4 L178.4 607.8 L178.9 608.1 L179.3 608.4 L179.8 608.6 L180.3 608.6 L180.7 608.4 L181.2 608.5 L181.6 608.3 L182.1 608.6 L182.5 608.8 L183.0 609.0 L183.5 609.0 L183.9 609.7 L184.4 609.7 L184.8 609.7 L185.3 610.1 L185.8 610.4 L186.2 610.2 L186.7 610.3 L187.1 610.3 L187.6 610.4 L188.0 610.6 L188.5 610.5 L189.0 610.5 L189.4 610.6 L189.9 610.5 L190.3 610.4 L190.8 611.1M224.3 609.4 L224.7 609.5 L225.2 609.4 L225.7 609.2 L226.1 609.5 L226.6 609.8 L227.0 609.7 L227.5 609.6 L228.0 609.9 L228.4 610.2 L228.9 610.4 L229.3 610.5 L229.8 610.8 L230.3 610.9 L230.7 610.7 L231.2 610.7 L231.6 610.9 L232.1 610.9 L232.5 610.9 L233.0 610.7 L233.5 610.8 L233.9 610.9 L234.4 611.2 L234.8 611.3 L235.3 611.6 L235.8 611.5 L236.2 611.5 L236.7 611.5 L237.1 611.4 L237.6 611.4 L238.0 611.8 L238.5 611.9 L239.0 612.1 L239.4 612.2 L239.9 612.1 L240.3 612.0 L240.8 612.1 L241.3 611.9 L241.7 611.9 L242.2 612.5 L242.6 612.7 L243.1 613.0 L243.6 613.1 L244.0 613.2 L244.5 612.9 L244.9 612.9 L245.4 613.0 L245.8 613.2 L246.3 613.4 L246.8 613.7 L247.2 613.8 L247.7 613.6 L248.1 613.8 L248.6 613.9 L249.1 613.9 L249.5 613.9 L250.0 614.0 L250.4 614.1 L250.9 614.1 L251.3 614.4 L251.8 614.6 L252.3 614.7 L252.7 614.8 L253.2 615.0 L253.6 615.2 L254.1 614.9 L254.6 614.9 L255.0 614.9 L255.5 614.9 L255.9 614.9M289.4 610.2 L289.9 610.1 L290.3 610.0 L290.8 610.3 L291.3 610.6 L291.7 610.7 L292.2 610.9 L292.6 611.3 L293.1 611.0 L293.5 611.1 L294.0 611.4 L294.5 611.7 L294.9 611.6 L295.4 612.2 L295.8 612.3 L296.3 612.4 L296.8 612.4 L297.2 612.5 L297.7 612.2 L298.1 612.1 L298.6 612.2 L299.1 612.3 L299.5 612.6 L300.0 612.8 L300.4 613.3 L300.9 613.2 L301.3 613.3 L301.8 613.2 L302.3 613.1 L302.7 613.0 L303.2 613.2 L303.6 613.4 L304.1 613.6 L304.6 613.8 L305.0 613.8 L305.5 613.9 L305.9 614.1 L306.4 614.2 L306.8 614.1 L307.3 614.1 L307.8 614.2 L308.2 614.1 L308.7 614.1 L309.1 614.3 L309.6 614.7 L310.1 614.6 L310.5 614.7 L311.0 614.7 L311.4 614.7 L311.9 614.6 L312.4 614.5 L312.8 614.6 L313.3 614.9 L313.7 615.2 L314.2 615.0 L314.6 615.4 L315.1 615.6 L315.6 615.5 L316.0 615.3 L316.5 615.4 L316.9 615.3 L317.4 615.5 L317.9 615.6 L318.3 615.7 L318.8 616.0 L319.2 616.5 L319.7 616.3 L320.1 616.2 L320.6 616.7 L321.1 616.6" fill="none" stroke="#3216c4" stroke-width="2.1" stroke-linejoin="round"/>
<path d="M94.0 573.9 L94.5 573.8 L94.9 574.0 L95.4 574.2 L95.9 574.0 L96.3 574.1 L96.8 574.2 L97.2 574.6 L97.7 574.5 L98.1 574.4 L98.6 574.2 L99.1 574.4 L99.5 574.6 L100.0 574.7 L100.4 574.9 L100.9 575.1 L101.4 575.0 L101.8 574.8 L102.3 575.0 L102.7 575.3 L103.2 575.6 L103.7 575.7 L104.1 575.4 L104.6 575.3 L105.0 575.3 L105.5 575.2 L105.9 575.3 L106.4 575.6 L106.9 575.6 L107.3 575.8 L107.8 575.7 L108.2 575.7 L108.7 575.6 L109.2 575.8 L109.6 575.6 L110.1 575.8 L110.5 575.6 L111.0 576.1 L111.4 576.1 L111.9 576.2 L112.4 576.4 L112.8 576.5 L113.3 576.4 L113.7 576.4 L114.2 576.5 L114.7 576.4 L115.1 576.5 L115.6 576.4 L116.0 576.2 L116.5 576.0 L117.0 575.8 L117.4 575.5 L117.9 575.6 L118.3 575.7 L118.8 575.9 L119.2 576.1 L119.7 576.3 L120.2 576.3 L120.6 576.3 L121.1 576.3 L121.5 576.2 L122.0 576.5 L122.5 576.5 L122.9 576.6 L123.4 576.7 L123.8 577.0 L124.3 576.7 L124.7 576.7 L125.2 576.8 L125.7 576.7M159.2 574.5 L159.6 574.5 L160.1 574.8 L160.5 574.8 L161.0 574.8 L161.4 574.5 L161.9 574.7 L162.4 574.7 L162.8 575.2 L163.3 575.1 L163.7 575.4 L164.2 575.5 L164.7 575.6 L165.1 575.2 L165.6 575.2 L166.0 575.2 L166.5 575.2 L167.0 575.1 L167.4 575.2 L167.9 575.3 L168.3 575.3 L168.8 575.4 L169.2 575.2 L169.7 575.4 L170.2 575.5 L170.6 575.7 L171.1 575.7 L171.5 576.1 L172.0 576.0 L172.5 575.9 L172.9 576.0 L173.4 575.8 L173.8 575.7 L174.3 575.8 L174.7 576.0 L175.2 575.7 L175.7 576.3 L176.1 576.5 L176.6 576.6 L177.0 576.5 L177.5 576.8 L178.0 576.4 L178.4 576.3 L178.9 576.2 L179.3 576.4 L179.8 576.4 L180.3 576.3 L180.7 576.5 L181.2 576.7 L181.6 576.8 L182.1 576.9 L182.5 577.3 L183.0 577.1 L183.5 577.4 L183.9 577.2 L184.4 577.5 L184.8 577.4 L185.3 577.5 L185.8 577.1 L186.2 577.1 L186.7 576.9 L187.1 576.7 L187.6 576.7 L188.0 577.2 L188.5 577.2 L189.0 577.3 L189.4 577.5 L189.9 577.6 L190.3 577.7 L190.8 577.9M224.3 576.3 L224.7 576.9 L225.2 576.7 L225.7 576.9 L226.1 577.0 L226.6 576.9 L227.0 576.6 L227.5 576.8 L228.0 576.5 L228.4 576.4 L228.9 576.3 L229.3 576.3 L229.8 576.1 L230.3 576.3 L230.7 576.6 L231.2 576.5 L231.6 576.3 L232.1 576.4 L232.5 576.7 L233.0 576.2 L233.5 576.5 L233.9 576.8 L234.4 577.0 L234.8 576.7 L235.3 577.0 L235.8 577.1 L236.2 577.2 L236.7 577.0 L237.1 577.4 L237.6 577.2 L238.0 577.3 L238.5 576.9 L239.0 577.1 L239.4 577.0 L239.9 577.0 L240.3 576.9 L240.8 577.4 L241.3 577.3 L241.7 577.3 L242.2 577.4 L242.6 577.6 L243.1 577.2 L243.6 577.1 L244.0 577.2 L244.5 577.5 L244.9 577.5 L245.4 577.6 L245.8 577.7 L246.3 577.9 L246.8 577.8 L247.2 578.1 L247.7 578.4 L248.1 578.4 L248.6 578.0 L249.1 577.8 L249.5 577.6 L250.0 577.5 L250.4 577.4 L250.9 577.6 L251.3 577.7 L251.8 577.8 L252.3 577.9 L252.7 578.2 L253.2 578.1 L253.6 578.2 L254.1 578.2 L254.6 578.1 L255.0 578.2 L255.5 578.4 L255.9 578.5M289.4 576.3 L289.9 576.3 L290.3 576.3 L290.8 576.3 L291.3 576.2 L291.7 576.3 L292.2 576.6 L292.6 577.0 L293.1 577.2 L293.5 577.3 L294.0 577.2 L294.5 576.9 L294.9 576.9 L295.4 576.9 L295.8 577.0 L296.3 577.2 L296.8 577.7 L297.2 577.7 L297.7 577.6 L298.1 577.9 L298.6 577.7 L299.1 577.3 L299.5 577.3 L300.0 577.4 L300.4 577.2 L300.9 577.4 L301.3 577.4 L301.8 577.2 L302.3 577.2 L302.7 577.2 L303.2 577.2 L303.6 577.4 L304.1 577.8 L304.6 578.1 L305.0 578.2 L305.5 578.5 L305.9 578.6 L306.4 578.5 L306.8 578.4 L307.3 578.5 L307.8 578.4 L308.2 578.2 L308.7 578.5 L309.1 578.6 L309.6 578.9 L310.1 578.8 L310.5 579.0 L311.0 578.5 L311.4 578.6 L311.9 578.3 L312.4 578.5 L312.8 578.7 L313.3 578.9 L313.7 579.1 L314.2 579.2 L314.6 579.2 L315.1 579.2 L315.6 579.3 L316.0 579.3 L316.5 579.3 L316.9 579.5 L317.4 579.9 L317.9 580.2 L318.3 580.2 L318.8 580.4 L319.2 580.4 L319.7 579.9 L320.1 579.8 L320.6 579.6 L321.1 579.3" fill="none" stroke="#150f9c" stroke-width="2.2" stroke-linejoin="round"/>
<path d="M60.8 749.0L94.0 749.0L94.0 574.2M125.7 576.9L125.7 743.6Q126.3 749.0 130.6 749.0L159.2 749.0L159.2 574.7M190.8 577.9L190.8 743.6Q191.5 749.0 195.7 749.0L224.3 749.0L224.3 576.0M255.9 578.5L255.9 743.6Q256.6 749.0 260.8 749.0L289.4 749.0L289.4 576.3M321.1 579.6L321.1 743.6Q321.7 749.0 326.0 749.0L353.9 749.0" stroke="#6a3ae8" stroke-width="2.5" fill="none" opacity="0.3" stroke-linejoin="round"/>
<path d="M60.8 749.0L94.0 749.0L94.0 574.2M125.7 576.9L125.7 743.6Q126.3 749.0 130.6 749.0L159.2 749.0L159.2 574.7M190.8 577.9L190.8 743.6Q191.5 749.0 195.7 749.0L224.3 749.0L224.3 576.0M255.9 578.5L255.9 743.6Q256.6 749.0 260.8 749.0L289.4 749.0L289.4 576.3M321.1 579.6L321.1 743.6Q321.7 749.0 326.0 749.0L353.9 749.0" stroke="#2412cc" stroke-width="2.0" fill="none" stroke-linejoin="round"/>
</g>
<rect x="60.25" y="554.4" width="293.6" height="216.70000000000005" fill="none" stroke="#17171c" stroke-width="1.3"/>
<path d="M60.25 770.66h-4.3M60.25 749.00h-4.3M60.25 727.34h-4.3M60.25 705.68h-4.3M60.25 684.02h-4.3M60.25 662.36h-4.3M60.25 640.70h-4.3M60.25 619.04h-4.3M60.25 597.38h-4.3M60.25 575.72h-4.3M60.25 554.06h-4.3M60.25 759.83h-2.3M60.25 738.17h-2.3M60.25 716.51h-2.3M60.25 694.85h-2.3M60.25 673.19h-2.3M60.25 651.53h-2.3M60.25 629.87h-2.3M60.25 608.21h-2.3M60.25 586.55h-2.3M60.25 564.89h-2.3" stroke="#17171c" stroke-width="1.1" fill="none"/>
<text transform="translate(52.95 775.1) scale(1 1.08)" font-size="13.3" text-anchor="end" >-0.2</text>
<text transform="translate(52.95 753.4) scale(1 1.08)" font-size="13.3" text-anchor="end" >0.0</text>
<text transform="translate(52.95 731.7) scale(1 1.08)" font-size="13.3" text-anchor="end" >0.2</text>
<text transform="translate(52.95 710.1) scale(1 1.08)" font-size="13.3" text-anchor="end" >0.4</text>
<text transform="translate(52.95 688.4) scale(1 1.08)" font-size="13.3" text-anchor="end" >0.6</text>
<text transform="translate(52.95 666.8) scale(1 1.08)" font-size="13.3" text-anchor="end" >0.8</text>
<text transform="translate(52.95 645.1) scale(1 1.08)" font-size="13.3" text-anchor="end" >1.0</text>
<text transform="translate(52.95 623.4) scale(1 1.08)" font-size="13.3" text-anchor="end" >1.2</text>
<text transform="translate(52.95 601.8) scale(1 1.08)" font-size="13.3" text-anchor="end" >1.4</text>
<text transform="translate(52.95 580.1) scale(1 1.08)" font-size="13.3" text-anchor="end" >1.6</text>
<text transform="translate(52.95 558.5) scale(1 1.08)" font-size="13.3" text-anchor="end" >1.8</text>
<path d="M60.75 771.1v4.3M93.32 771.1v4.3M125.88 771.1v4.3M158.45 771.1v4.3M191.02 771.1v4.3M223.58 771.1v4.3M256.15 771.1v4.3M288.72 771.1v4.3M321.28 771.1v4.3M353.85 771.1v4.3M77.03 771.1v2.3M109.60 771.1v2.3M142.17 771.1v2.3M174.73 771.1v2.3M207.30 771.1v2.3M239.87 771.1v2.3M272.43 771.1v2.3M305.00 771.1v2.3M337.57 771.1v2.3" stroke="#17171c" stroke-width="1.1" fill="none"/>
<text transform="translate(60.8 788.9) scale(1 1.08)" font-size="13.3" text-anchor="middle" >0</text>
<text transform="translate(93.3 788.9) scale(1 1.08)" font-size="13.3" text-anchor="middle" >60</text>
<text transform="translate(125.9 788.9) scale(1 1.08)" font-size="13.3" text-anchor="middle" >120</text>
<text transform="translate(158.4 788.9) scale(1 1.08)" font-size="13.3" text-anchor="middle" >180</text>
<text transform="translate(191.0 788.9) scale(1 1.08)" font-size="13.3" text-anchor="middle" >240</text>
<text transform="translate(223.6 788.9) scale(1 1.08)" font-size="13.3" text-anchor="middle" >300</text>
<text transform="translate(256.1 788.9) scale(1 1.08)" font-size="13.3" text-anchor="middle" >360</text>
<text transform="translate(288.7 788.9) scale(1 1.08)" font-size="13.3" text-anchor="middle" >420</text>
<text transform="translate(321.3 788.9) scale(1 1.08)" font-size="13.3" text-anchor="middle" >480</text>
<text transform="translate(353.9 788.9) scale(1 1.08)" font-size="13.3" text-anchor="middle" >540</text>
<text transform="translate(207.4 811.3) scale(1 1.07)" font-size="14.7" text-anchor="middle" >Time / seconds</text>
<text transform="translate(17.4 765.8) rotate(-90) scale(1 1.07)" font-size="14.25" text-anchor="start">Photocurrent density / mA cm<tspan font-size="11.8" dy="-5.2">-2</tspan></text>
<rect x="63.7" y="557.7" width="23.6" height="26" fill="#000"/>
<text x="74.5" y="577.2" font-size="33" fill="#fff" class="w" text-anchor="middle">c</text>
<text transform="translate(130.3 567.3) scale(1 1.08)" font-size="14.5" text-anchor="start" >light off</text>
<text transform="translate(196.2 567.3) scale(1 1.08)" font-size="14.5" text-anchor="start" >light off</text>
<text transform="translate(261 567.3) scale(1 1.08)" font-size="14.5" text-anchor="start" >light off</text>
<text transform="translate(316.9 567.3) scale(1 1.08)" font-size="14.5" text-anchor="start" >light off</text>
<path d="M137.4 570.4L129.4 575.6M131.7 571.1L129.4 575.6L134.4 575.3" stroke="#111" stroke-width="1.15" fill="none"/>
<path d="M202.4 570.6L194.4 575.6M196.7 571.2L194.4 575.6L199.4 575.4" stroke="#111" stroke-width="1.15" fill="none"/>
<path d="M266.4 571.2L258.6 576.0M261.0 571.6L258.6 576.0L263.6 575.9" stroke="#111" stroke-width="1.15" fill="none"/>
<path d="M331.0 571.4L322.8 576.0M325.4 571.7L322.8 576.0L327.8 576.1" stroke="#111" stroke-width="1.15" fill="none"/>
<text transform="translate(94.6 765.9) scale(1 1.08)" font-size="14.5" text-anchor="start" >light on</text>
<text transform="translate(161.3 765.9) scale(1 1.08)" font-size="14.5" text-anchor="start" >light on</text>
<text transform="translate(224.5 765.9) scale(1 1.08)" font-size="14.5" text-anchor="start" >light on</text>
<text transform="translate(299.2 765.9) scale(1 1.08)" font-size="14.5" text-anchor="start" >light on</text>
<path d="M105.6 755.5L97.1 750.0M102.1 750.3L97.1 750.0L99.4 754.5" stroke="#111" stroke-width="1.15" fill="none"/>
<path d="M171.9 753.8L163.4 748.6M168.4 748.7L163.4 748.6L165.8 753.0" stroke="#111" stroke-width="1.15" fill="none"/>
<path d="M235.9 753.6L227.4 749.2M232.4 749.0L227.4 749.2L230.1 753.4" stroke="#111" stroke-width="1.15" fill="none"/>
<path d="M303.4 754.7L293.7 749.2M298.7 749.2L293.7 749.2L296.2 753.5" stroke="#111" stroke-width="1.15" fill="none"/>
<text transform="translate(323.8 588.5999999999999) scale(1 1.08)" font-size="14.8" text-anchor="start" >S-60-80</text>
<text transform="translate(323.8 619.0) scale(1 1.08)" font-size="14.8" text-anchor="start" >S-60-100</text>
<text transform="translate(323.8 632.8) scale(1 1.08)" font-size="14.8" text-anchor="start" >S-80-80</text>
<text transform="translate(323.8 650.0999999999999) scale(1 1.08)" font-size="14.8" text-anchor="start" >S-60-60</text>
<text transform="translate(323.8 663.8) scale(1 1.08)" font-size="14.8" text-anchor="start" >S-60-20</text>
<text transform="translate(323.8 688.8) scale(1 1.08)" font-size="14.8" text-anchor="start" >S-60-40</text>
<text transform="translate(323.8 709.5999999999999) scale(1 1.08)" font-size="14.8" text-anchor="start" >S-100-80</text>
<text transform="translate(322.8 720.3) scale(1 1.08)" font-size="14.8" text-anchor="start" >one-step</text>
</svg>
</body></html>
